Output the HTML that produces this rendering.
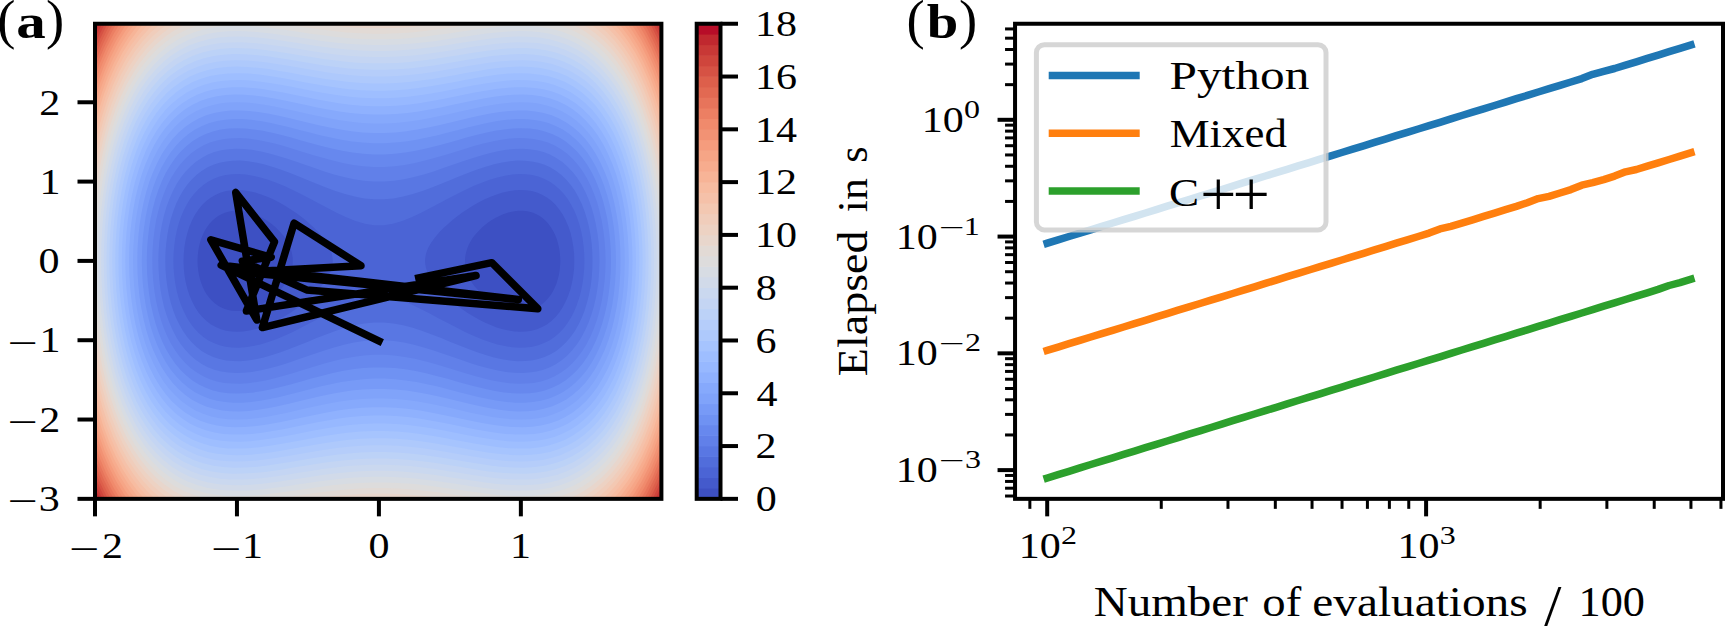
<!DOCTYPE html>
<html><head><meta charset="utf-8"><title>Figure</title><style>html,body{margin:0;padding:0;background:#fff}svg{display:block}</style></head><body>
<svg width="1725" height="626" viewBox="0 0 1725 626" font-family="'Liberation Serif', 'DejaVu Serif', serif">
<rect width="1725" height="626" fill="#fff"/>
<defs><clipPath id="ca"><rect x="95.0" y="23.75" width="566.4" height="475.1"/></clipPath><clipPath id="cb"><rect x="1015.05" y="23.75" width="707.95" height="475.1"/></clipPath></defs>
<g clip-path="url(#ca)">
<rect x="94.0" y="22.75" width="568.4" height="477.1" fill="#b70d28"/>
<path d="M55.4,260.9L55.7,237.1L56.7,213.4L58.4,190.0L60.7,167.0L63.7,144.6L67.3,122.8L71.6,101.9L76.6,81.8L82.1,62.8L88.3,44.9L95.1,28.1L102.5,12.6L110.4,-1.6L118.9,-14.5L127.9,-25.9L137.5,-36.1L147.5,-44.8L158.1,-52.2L169.1,-58.3L180.5,-63.1L192.3,-66.8L204.5,-69.4L217.1,-71.0L230.1,-71.8L243.3,-71.8L256.8,-71.2L270.6,-70.2L284.5,-68.9L298.7,-67.4L313.1,-66.0L327.6,-64.6L342.2,-63.5L356.8,-62.7L371.5,-62.3L386.3,-62.3L401.0,-62.7L415.7,-63.5L430.3,-64.6L444.7,-66.0L459.1,-67.4L473.3,-68.9L487.3,-70.2L501.0,-71.2L514.5,-71.8L527.8,-71.8L540.7,-71.0L553.3,-69.4L565.5,-66.8L577.3,-63.1L588.8,-58.3L599.8,-52.2L610.3,-44.8L620.3,-36.1L629.9,-25.9L638.9,-14.5L647.4,-1.6L655.4,12.6L662.7,28.1L669.5,44.9L675.7,62.8L681.2,81.8L686.2,101.9L690.5,122.8L694.1,144.6L697.1,167.0L699.5,190.0L701.1,213.4L702.1,237.1L702.5,260.9L702.5,260.9L702.1,284.7L701.1,308.4L699.5,331.8L697.1,354.8L694.1,377.2L690.5,399.0L686.2,419.9L681.2,440.0L675.7,459.0L669.5,477.0L662.7,493.7L655.4,509.2L647.4,523.4L638.9,536.3L629.9,547.8L620.3,557.9L610.3,566.6L599.8,574.0L588.8,580.1L577.3,584.9L565.5,588.6L553.3,591.2L540.7,592.8L527.8,593.6L514.5,593.6L501.0,593.0L487.3,592.0L473.3,590.7L459.1,589.2L444.7,587.8L430.3,586.4L415.7,585.3L401.0,584.5L386.3,584.1L371.5,584.1L356.8,584.5L342.2,585.3L327.6,586.4L313.1,587.8L298.7,589.2L284.5,590.7L270.6,592.0L256.8,593.0L243.3,593.6L230.1,593.6L217.1,592.8L204.5,591.2L192.3,588.6L180.5,584.9L169.1,580.1L158.1,574.0L147.5,566.6L137.5,557.9L127.9,547.8L118.9,536.3L110.4,523.4L102.5,509.2L95.1,493.7L88.3,477.0L82.1,459.0L76.6,440.0L71.6,419.9L67.3,399.0L63.7,377.2L60.7,354.8L58.4,331.8L56.7,308.4L55.7,284.7L55.4,260.9Z" fill="#c0282f"/>
<path d="M56.8,260.9L57.2,237.3L58.2,213.9L59.8,190.7L62.2,168.0L65.2,145.8L68.8,124.3L73.1,103.5L78.0,83.7L83.5,64.9L89.7,47.1L96.4,30.5L103.7,15.2L111.6,1.2L120.1,-11.5L129.1,-22.9L138.6,-32.9L148.6,-41.5L159.1,-48.8L170.0,-54.8L181.4,-59.6L193.2,-63.2L205.4,-65.7L217.9,-67.3L230.7,-68.0L243.9,-68.0L257.4,-67.4L271.1,-66.3L285.0,-65.0L299.1,-63.5L313.4,-62.1L327.8,-60.7L342.3,-59.6L356.9,-58.8L371.6,-58.4L386.2,-58.4L400.9,-58.8L415.5,-59.6L430.0,-60.7L444.4,-62.1L458.7,-63.5L472.8,-65.0L486.8,-66.3L500.5,-67.4L513.9,-68.0L527.1,-68.0L539.9,-67.3L552.5,-65.7L564.6,-63.2L576.4,-59.6L587.8,-54.8L598.7,-48.8L609.2,-41.5L619.2,-32.9L628.7,-22.9L637.7,-11.5L646.2,1.2L654.1,15.2L661.4,30.5L668.2,47.1L674.3,64.9L679.8,83.7L684.8,103.5L689.0,124.3L692.7,145.8L695.6,168.0L698.0,190.7L699.6,213.9L700.6,237.3L701.0,260.9L701.0,260.9L700.6,284.5L699.6,307.9L698.0,331.1L695.6,353.8L692.7,376.0L689.0,397.5L684.8,418.3L679.8,438.1L674.3,456.9L668.2,474.7L661.4,491.3L654.1,506.6L646.2,520.6L637.7,533.3L628.7,544.7L619.2,554.7L609.2,563.3L598.7,570.6L587.8,576.6L576.4,581.4L564.6,585.0L552.5,587.5L539.9,589.1L527.1,589.8L513.9,589.8L500.5,589.2L486.8,588.1L472.8,586.8L458.7,585.3L444.4,583.9L430.0,582.5L415.5,581.4L400.9,580.6L386.2,580.2L371.6,580.2L356.9,580.6L342.3,581.4L327.8,582.5L313.4,583.9L299.1,585.3L285.0,586.8L271.1,588.1L257.4,589.2L243.9,589.8L230.7,589.8L217.9,589.1L205.4,587.5L193.2,585.0L181.4,581.4L170.0,576.6L159.1,570.6L148.6,563.3L138.6,554.7L129.1,544.7L120.1,533.3L111.6,520.6L103.7,506.6L96.4,491.3L89.7,474.7L83.5,456.9L78.0,438.1L73.1,418.3L68.8,397.5L65.2,376.0L62.2,353.8L59.8,331.1L58.2,307.9L57.2,284.5L56.8,260.9Z" fill="#c83836"/>
<path d="M58.4,260.9L58.7,237.6L59.7,214.4L61.4,191.5L63.7,169.0L66.6,147.0L70.3,125.7L74.5,105.2L79.4,85.6L84.9,67.0L91.0,49.4L97.7,33.0L105.0,17.9L112.9,4.0L121.3,-8.6L130.3,-19.8L139.7,-29.6L149.7,-38.2L160.1,-45.3L171.0,-51.3L182.3,-55.9L194.1,-59.5L206.2,-61.9L218.6,-63.5L231.4,-64.1L244.5,-64.1L257.9,-63.5L271.6,-62.4L285.4,-61.1L299.5,-59.6L313.7,-58.1L328.0,-56.8L342.5,-55.6L357.0,-54.8L371.6,-54.4L386.2,-54.4L400.8,-54.8L415.3,-55.6L429.8,-56.8L444.1,-58.1L458.3,-59.6L472.4,-61.1L486.3,-62.4L499.9,-63.5L513.3,-64.1L526.4,-64.1L539.2,-63.5L551.6,-61.9L563.8,-59.5L575.5,-55.9L586.8,-51.3L597.7,-45.3L608.1,-38.2L618.1,-29.6L627.6,-19.8L636.5,-8.6L644.9,4.0L652.8,17.9L660.1,33.0L666.8,49.4L672.9,67.0L678.4,85.6L683.3,105.2L687.6,125.7L691.2,147.0L694.1,169.0L696.5,191.5L698.1,214.4L699.1,237.6L699.5,260.9L699.5,260.9L699.1,284.2L698.1,307.4L696.5,330.3L694.1,352.8L691.2,374.8L687.6,396.1L683.3,416.6L678.4,436.2L672.9,454.9L666.8,472.4L660.1,488.8L652.8,503.9L644.9,517.8L636.5,530.4L627.6,541.6L618.1,551.4L608.1,560.0L597.7,567.2L586.8,573.1L575.5,577.7L563.8,581.3L551.6,583.8L539.2,585.3L526.4,585.9L513.3,585.9L499.9,585.3L486.3,584.2L472.4,582.9L458.3,581.4L444.1,579.9L429.8,578.6L415.3,577.4L400.8,576.6L386.2,576.2L371.6,576.2L357.0,576.6L342.5,577.4L328.0,578.6L313.7,579.9L299.5,581.4L285.4,582.9L271.6,584.2L257.9,585.3L244.5,585.9L231.4,585.9L218.6,585.3L206.2,583.8L194.1,581.3L182.3,577.7L171.0,573.1L160.1,567.2L149.7,560.0L139.7,551.4L130.3,541.6L121.3,530.4L112.9,517.8L105.0,503.9L97.7,488.8L91.0,472.4L84.9,454.9L79.4,436.2L74.5,416.6L70.3,396.1L66.6,374.8L63.7,352.8L61.4,330.3L59.7,307.4L58.7,284.2L58.4,260.9Z" fill="#cf453c"/>
<path d="M59.9,260.9L60.2,237.8L61.2,214.9L62.9,192.2L65.2,170.0L68.1,148.3L71.7,127.2L76.0,106.9L80.8,87.5L86.3,69.1L92.4,51.7L99.1,35.5L106.4,20.5L114.2,6.8L122.6,-5.6L131.5,-16.6L140.9,-26.4L150.8,-34.8L161.2,-41.9L172.0,-47.7L183.3,-52.3L195.0,-55.7L207.0,-58.2L219.4,-59.6L232.2,-60.3L245.2,-60.2L258.5,-59.5L272.1,-58.5L285.9,-57.1L299.9,-55.6L314.0,-54.1L328.3,-52.8L342.7,-51.6L357.1,-50.8L371.6,-50.4L386.2,-50.4L400.7,-50.8L415.1,-51.6L429.5,-52.8L443.8,-54.1L458.0,-55.6L471.9,-57.1L485.7,-58.5L499.3,-59.5L512.6,-60.2L525.7,-60.3L538.4,-59.6L550.8,-58.2L562.9,-55.7L574.5,-52.3L585.8,-47.7L596.6,-41.9L607.0,-34.8L616.9,-26.4L626.4,-16.6L635.3,-5.6L643.6,6.8L651.5,20.5L658.7,35.5L665.4,51.7L671.5,69.1L677.0,87.5L681.8,106.9L686.1,127.2L689.7,148.3L692.6,170.0L694.9,192.2L696.6,214.9L697.6,237.8L697.9,260.9L697.9,260.9L697.6,284.0L696.6,306.9L694.9,329.6L692.6,351.8L689.7,373.6L686.1,394.6L681.8,414.9L677.0,434.3L671.5,452.7L665.4,470.1L658.7,486.3L651.5,501.3L643.6,515.0L635.3,527.4L626.4,538.4L616.9,548.2L607.0,556.6L596.6,563.7L585.8,569.5L574.5,574.1L562.9,577.6L550.8,580.0L538.4,581.4L525.7,582.1L512.6,582.0L499.3,581.3L485.7,580.3L471.9,578.9L458.0,577.4L443.8,575.9L429.5,574.6L415.1,573.4L400.7,572.6L386.2,572.2L371.6,572.2L357.1,572.6L342.7,573.4L328.3,574.6L314.0,575.9L299.9,577.4L285.9,578.9L272.1,580.3L258.5,581.3L245.2,582.0L232.2,582.1L219.4,581.4L207.0,580.0L195.0,577.6L183.3,574.1L172.0,569.5L161.2,563.7L150.8,556.6L140.9,548.2L131.5,538.4L122.6,527.4L114.2,515.0L106.4,501.3L99.1,486.3L92.4,470.1L86.3,452.7L80.8,434.3L76.0,414.9L71.7,394.6L68.1,373.6L65.2,351.8L62.9,329.6L61.2,306.9L60.2,284.0L59.9,260.9Z" fill="#d65244"/>
<path d="M61.5,260.9L61.8,238.1L62.8,215.4L64.4,193.0L66.7,171.0L69.7,149.5L73.3,128.7L77.5,108.6L82.3,89.4L87.8,71.2L93.8,54.1L100.5,38.1L107.7,23.3L115.5,9.7L123.8,-2.5L132.7,-13.5L142.1,-23.1L151.9,-31.3L162.3,-38.3L173.0,-44.1L184.2,-48.6L195.9,-52.0L207.9,-54.3L220.2,-55.7L232.9,-56.3L245.9,-56.2L259.1,-55.5L272.6,-54.4L286.3,-53.1L300.3,-51.6L314.3,-50.1L328.5,-48.7L342.9,-47.6L357.2,-46.8L371.7,-46.3L386.1,-46.3L400.6,-46.8L415.0,-47.6L429.3,-48.7L443.5,-50.1L457.6,-51.6L471.5,-53.1L485.2,-54.4L498.7,-55.5L512.0,-56.2L524.9,-56.3L537.6,-55.7L550.0,-54.3L562.0,-52.0L573.6,-48.6L584.8,-44.1L595.6,-38.3L605.9,-31.3L615.8,-23.1L625.1,-13.5L634.0,-2.5L642.3,9.7L650.1,23.3L657.3,38.1L664.0,54.1L670.1,71.2L675.5,89.4L680.3,108.6L684.6,128.7L688.1,149.5L691.1,171.0L693.4,193.0L695.0,215.4L696.0,238.1L696.3,260.9L696.3,260.9L696.0,283.7L695.0,306.4L693.4,328.8L691.1,350.8L688.1,372.3L684.6,393.1L680.3,413.2L675.5,432.4L670.1,450.6L664.0,467.7L657.3,483.7L650.1,498.5L642.3,512.1L634.0,524.3L625.1,535.3L615.8,544.9L605.9,553.1L595.6,560.1L584.8,565.9L573.6,570.4L562.0,573.8L550.0,576.1L537.6,577.5L524.9,578.1L512.0,578.0L498.7,577.3L485.2,576.2L471.5,574.9L457.6,573.4L443.5,571.9L429.3,570.5L415.0,569.4L400.6,568.6L386.1,568.1L371.7,568.1L357.2,568.6L342.9,569.4L328.5,570.5L314.3,571.9L300.3,573.4L286.3,574.9L272.6,576.2L259.1,577.3L245.9,578.0L232.9,578.1L220.2,577.5L207.9,576.1L195.9,573.8L184.2,570.4L173.0,565.9L162.3,560.1L151.9,553.1L142.1,544.9L132.7,535.3L123.8,524.3L115.5,512.1L107.7,498.5L100.5,483.7L93.8,467.7L87.8,450.6L82.3,432.4L77.5,413.2L73.3,393.1L69.7,372.3L66.7,350.8L64.4,328.8L62.8,306.4L61.8,283.7L61.5,260.9Z" fill="#dd5f4b"/>
<path d="M63.1,260.9L63.4,238.3L64.4,215.9L66.0,193.8L68.3,172.0L71.2,150.8L74.8,130.2L79.0,110.4L83.8,91.4L89.2,73.4L95.3,56.5L101.9,40.6L109.1,26.0L116.8,12.6L125.1,0.5L133.9,-10.2L143.3,-19.7L153.1,-27.9L163.3,-34.7L174.1,-40.4L185.2,-44.8L196.8,-48.1L208.7,-50.4L221.0,-51.8L233.6,-52.3L246.5,-52.2L259.7,-51.5L273.1,-50.4L286.8,-49.0L300.6,-47.5L314.7,-46.0L328.8,-44.6L343.0,-43.4L357.4,-42.6L371.7,-42.2L386.1,-42.2L400.5,-42.6L414.8,-43.4L429.0,-44.6L443.2,-46.0L457.2,-47.5L471.0,-49.0L484.7,-50.4L498.1,-51.5L511.3,-52.2L524.2,-52.3L536.8,-51.8L549.1,-50.4L561.0,-48.1L572.6,-44.8L583.7,-40.4L594.5,-34.7L604.8,-27.9L614.6,-19.7L623.9,-10.2L632.7,0.5L641.0,12.6L648.8,26.0L655.9,40.6L662.6,56.5L668.6,73.4L674.0,91.4L678.8,110.4L683.0,130.2L686.6,150.8L689.5,172.0L691.8,193.8L693.4,215.9L694.4,238.3L694.7,260.9L694.7,260.9L694.4,283.5L693.4,305.9L691.8,328.0L689.5,349.8L686.6,371.0L683.0,391.6L678.8,411.5L674.0,430.4L668.6,448.4L662.6,465.4L655.9,481.2L648.8,495.8L641.0,509.2L632.7,521.3L623.9,532.0L614.6,541.5L604.8,549.7L594.5,556.6L583.7,562.2L572.6,566.6L561.0,570.0L549.1,572.2L536.8,573.6L524.2,574.2L511.3,574.0L498.1,573.3L484.7,572.2L471.0,570.8L457.2,569.3L443.2,567.8L429.0,566.4L414.8,565.2L400.5,564.4L386.1,564.0L371.7,564.0L357.4,564.4L343.0,565.2L328.8,566.4L314.7,567.8L300.6,569.3L286.8,570.8L273.1,572.2L259.7,573.3L246.5,574.0L233.6,574.2L221.0,573.6L208.7,572.2L196.8,570.0L185.2,566.6L174.1,562.2L163.3,556.6L153.1,549.7L143.3,541.5L133.9,532.0L125.1,521.3L116.8,509.2L109.1,495.8L101.9,481.2L95.3,465.4L89.2,448.4L83.8,430.4L79.0,411.5L74.8,391.6L71.2,371.0L68.3,349.8L66.0,328.0L64.4,305.9L63.4,283.5L63.1,260.9Z" fill="#e26952"/>
<path d="M64.7,260.9L65.0,238.6L66.0,216.4L67.6,194.5L69.9,173.0L72.8,152.1L76.4,131.7L80.5,112.1L85.3,93.4L90.7,75.6L96.7,58.9L103.3,43.2L110.5,28.8L118.2,15.6L126.4,3.7L135.2,-7.0L144.5,-16.3L154.2,-24.4L164.5,-31.1L175.1,-36.7L186.2,-41.0L197.7,-44.3L209.6,-46.5L221.8,-47.8L234.4,-48.3L247.2,-48.1L260.3,-47.4L273.7,-46.3L287.3,-44.8L301.1,-43.3L315.0,-41.8L329.1,-40.4L343.2,-39.3L357.5,-38.5L371.8,-38.0L386.1,-38.0L400.4,-38.5L414.6,-39.3L428.8,-40.4L442.8,-41.8L456.8,-43.3L470.5,-44.8L484.1,-46.3L497.5,-47.4L510.6,-48.1L523.5,-48.3L536.0,-47.8L548.2,-46.5L560.1,-44.3L571.6,-41.0L582.7,-36.7L593.4,-31.1L603.6,-24.4L613.4,-16.3L622.6,-7.0L631.4,3.7L639.7,15.6L647.4,28.8L654.5,43.2L661.1,58.9L667.1,75.6L672.5,93.4L677.3,112.1L681.4,131.7L685.0,152.1L687.9,173.0L690.2,194.5L691.8,216.4L692.8,238.6L693.1,260.9L693.1,260.9L692.8,283.2L691.8,305.4L690.2,327.3L687.9,348.8L685.0,369.8L681.4,390.1L677.3,409.7L672.5,428.4L667.1,446.2L661.1,462.9L654.5,478.6L647.4,493.0L639.7,506.2L631.4,518.1L622.6,528.8L613.4,538.1L603.6,546.2L593.4,552.9L582.7,558.5L571.6,562.8L560.1,566.1L548.2,568.3L536.0,569.6L523.5,570.1L510.6,569.9L497.5,569.2L484.1,568.1L470.5,566.7L456.8,565.1L442.8,563.6L428.8,562.2L414.6,561.1L400.4,560.3L386.1,559.8L371.8,559.8L357.5,560.3L343.2,561.1L329.1,562.2L315.0,563.6L301.1,565.1L287.3,566.7L273.7,568.1L260.3,569.2L247.2,569.9L234.4,570.1L221.8,569.6L209.6,568.3L197.7,566.1L186.2,562.8L175.1,558.5L164.5,552.9L154.2,546.2L144.5,538.1L135.2,528.8L126.4,518.1L118.2,506.2L110.5,493.0L103.3,478.6L96.7,462.9L90.7,446.2L85.3,428.4L80.5,409.7L76.4,390.1L72.8,369.8L69.9,348.8L67.6,327.3L66.0,305.4L65.0,283.2L64.7,260.9Z" fill="#e7745b"/>
<path d="M66.4,260.9L66.7,238.9L67.7,217.0L69.3,195.3L71.5,174.1L74.4,153.4L78.0,133.3L82.1,113.9L86.9,95.4L92.3,77.8L98.2,61.3L104.8,45.9L111.9,31.6L119.5,18.6L127.8,6.8L136.5,-3.7L145.7,-12.9L155.4,-20.8L165.6,-27.5L176.2,-32.9L187.2,-37.2L198.7,-40.3L210.5,-42.5L222.6,-43.8L235.1,-44.2L247.9,-44.0L261.0,-43.2L274.3,-42.1L287.8,-40.6L301.5,-39.1L315.3,-37.6L329.3,-36.2L343.4,-35.0L357.6,-34.2L371.8,-33.8L386.0,-33.8L400.2,-34.2L414.4,-35.0L428.5,-36.2L442.5,-37.6L456.4,-39.1L470.1,-40.6L483.6,-42.1L496.9,-43.2L509.9,-44.0L522.7,-44.2L535.2,-43.8L547.3,-42.5L559.1,-40.3L570.6,-37.2L581.6,-32.9L592.2,-27.5L602.4,-20.8L612.1,-12.9L621.3,-3.7L630.1,6.8L638.3,18.6L645.9,31.6L653.1,45.9L659.6,61.3L665.6,77.8L670.9,95.4L675.7,113.9L679.8,133.3L683.4,153.4L686.3,174.1L688.5,195.3L690.1,217.0L691.1,238.9L691.4,260.9L691.4,260.9L691.1,282.9L690.1,304.8L688.5,326.5L686.3,347.7L683.4,368.5L679.8,388.6L675.7,407.9L670.9,426.4L665.6,444.0L659.6,460.5L653.1,475.9L645.9,490.2L638.3,503.2L630.1,515.0L621.3,525.5L612.1,534.7L602.4,542.6L592.2,549.3L581.6,554.7L570.6,559.0L559.1,562.2L547.3,564.3L535.2,565.6L522.7,566.0L509.9,565.8L496.9,565.0L483.6,563.9L470.1,562.5L456.4,560.9L442.5,559.4L428.5,558.0L414.4,556.8L400.2,556.0L386.0,555.6L371.8,555.6L357.6,556.0L343.4,556.8L329.3,558.0L315.3,559.4L301.5,560.9L287.8,562.5L274.3,563.9L261.0,565.0L247.9,565.8L235.1,566.0L222.6,565.6L210.5,564.3L198.7,562.2L187.2,559.0L176.2,554.7L165.6,549.3L155.4,542.6L145.7,534.7L136.5,525.5L127.8,515.0L119.5,503.2L111.9,490.2L104.8,475.9L98.2,460.5L92.3,444.0L86.9,426.4L82.1,407.9L78.0,388.6L74.4,368.5L71.5,347.7L69.3,326.5L67.7,304.8L66.7,282.9L66.4,260.9Z" fill="#ec7f63"/>
<path d="M68.1,260.9L68.4,239.1L69.4,217.5L71.0,196.1L73.2,175.1L76.1,154.7L79.6,134.8L83.7,115.7L88.5,97.4L93.8,80.1L99.7,63.8L106.2,48.6L113.3,34.5L121.0,21.6L129.1,10.0L137.8,-0.3L147.0,-9.4L156.6,-17.2L166.7,-23.7L177.3,-29.1L188.3,-33.3L199.7,-36.4L211.4,-38.5L223.5,-39.7L235.9,-40.1L248.6,-39.8L261.6,-39.0L274.8,-37.8L288.3,-36.4L301.9,-34.8L315.7,-33.3L329.6,-31.9L343.6,-30.7L357.7,-29.9L371.8,-29.5L386.0,-29.5L400.1,-29.9L414.2,-30.7L428.2,-31.9L442.2,-33.3L455.9,-34.8L469.6,-36.4L483.0,-37.8L496.2,-39.0L509.2,-39.8L521.9,-40.1L534.3,-39.7L546.4,-38.5L558.2,-36.4L569.5,-33.3L580.5,-29.1L591.1,-23.7L601.2,-17.2L610.9,-9.4L620.0,-0.3L628.7,10.0L636.9,21.6L644.5,34.5L651.6,48.6L658.1,63.8L664.0,80.1L669.4,97.4L674.1,115.7L678.2,134.8L681.7,154.7L684.6,175.1L686.9,196.1L688.5,217.5L689.4,239.1L689.7,260.9L689.7,260.9L689.4,282.7L688.5,304.3L686.9,325.7L684.6,346.7L681.7,367.1L678.2,387.0L674.1,406.1L669.4,424.4L664.0,441.7L658.1,458.0L651.6,473.3L644.5,487.3L636.9,500.2L628.7,511.8L620.0,522.1L610.9,531.2L601.2,539.0L591.1,545.5L580.5,550.9L569.5,555.1L558.2,558.2L546.4,560.3L534.3,561.5L521.9,561.9L509.2,561.6L496.2,560.8L483.0,559.6L469.6,558.2L455.9,556.6L442.2,555.1L428.2,553.7L414.2,552.5L400.1,551.7L386.0,551.3L371.8,551.3L357.7,551.7L343.6,552.5L329.6,553.7L315.7,555.1L301.9,556.6L288.3,558.2L274.8,559.6L261.6,560.8L248.6,561.6L235.9,561.9L223.5,561.5L211.4,560.3L199.7,558.2L188.3,555.1L177.3,550.9L166.7,545.5L156.6,539.0L147.0,531.2L137.8,522.1L129.1,511.8L121.0,500.2L113.3,487.3L106.2,473.3L99.7,458.0L93.8,441.7L88.5,424.4L83.7,406.1L79.6,387.0L76.1,367.1L73.2,346.7L71.0,325.7L69.4,304.3L68.4,282.7L68.1,260.9Z" fill="#f08a6c"/>
<path d="M69.8,260.9L70.1,239.4L71.1,218.1L72.7,196.9L74.9,176.2L77.8,156.0L81.3,136.4L85.4,117.5L90.1,99.5L95.4,82.4L101.3,66.3L107.8,51.3L114.8,37.4L122.4,24.7L130.5,13.3L139.1,3.1L148.3,-5.8L157.9,-13.5L167.9,-19.9L178.4,-25.2L189.3,-29.3L200.7,-32.3L212.3,-34.4L224.4,-35.5L236.7,-35.9L249.3,-35.6L262.2,-34.7L275.4,-33.5L288.8,-32.1L302.3,-30.5L316.0,-28.9L329.9,-27.5L343.8,-26.4L357.8,-25.6L371.9,-25.1L385.9,-25.1L400.0,-25.6L414.0,-26.4L428.0,-27.5L441.8,-28.9L455.5,-30.5L469.1,-32.1L482.4,-33.5L495.6,-34.7L508.5,-35.6L521.1,-35.9L533.5,-35.5L545.5,-34.4L557.2,-32.3L568.5,-29.3L579.4,-25.2L589.9,-19.9L600.0,-13.5L609.6,-5.8L618.7,3.1L627.3,13.3L635.4,24.7L643.0,37.4L650.1,51.3L656.5,66.3L662.4,82.4L667.7,99.5L672.5,117.5L676.6,136.4L680.0,156.0L682.9,176.2L685.1,196.9L686.7,218.1L687.7,239.4L688.0,260.9L688.0,260.9L687.7,282.4L686.7,303.8L685.1,324.9L682.9,345.6L680.0,365.8L676.6,385.4L672.5,404.3L667.7,422.3L662.4,439.4L656.5,455.5L650.1,470.5L643.0,484.4L635.4,497.1L627.3,508.5L618.7,518.7L609.6,527.6L600.0,535.3L589.9,541.8L579.4,547.0L568.5,551.1L557.2,554.1L545.5,556.2L533.5,557.3L521.1,557.7L508.5,557.4L495.6,556.6L482.4,555.3L469.1,553.9L455.5,552.3L441.8,550.7L428.0,549.3L414.0,548.2L400.0,547.4L385.9,546.9L371.9,546.9L357.8,547.4L343.8,548.2L329.9,549.3L316.0,550.7L302.3,552.3L288.8,553.9L275.4,555.3L262.2,556.6L249.3,557.4L236.7,557.7L224.4,557.3L212.3,556.2L200.7,554.1L189.3,551.1L178.4,547.0L167.9,541.8L157.9,535.3L148.3,527.6L139.1,518.7L130.5,508.5L122.4,497.1L114.8,484.4L107.8,470.5L101.3,455.5L95.4,439.4L90.1,422.3L85.4,404.3L81.3,385.4L77.8,365.8L74.9,345.6L72.7,324.9L71.1,303.8L70.1,282.4L69.8,260.9Z" fill="#f29274"/>
<path d="M71.6,260.9L71.9,239.7L72.8,218.6L74.4,197.8L76.6,177.3L79.5,157.4L83.0,138.0L87.0,119.4L91.7,101.6L97.0,84.7L102.9,68.8L109.3,54.0L116.3,40.3L123.8,27.9L131.9,16.6L140.5,6.5L149.6,-2.2L159.1,-9.8L169.1,-16.1L179.6,-21.3L190.4,-25.3L201.7,-28.2L213.3,-30.2L225.2,-31.3L237.5,-31.6L250.1,-31.3L262.9,-30.4L276.0,-29.2L289.3,-27.7L302.7,-26.1L316.4,-24.5L330.1,-23.1L344.0,-21.9L357.9,-21.1L371.9,-20.7L385.9,-20.7L399.9,-21.1L413.8,-21.9L427.7,-23.1L441.4,-24.5L455.1,-26.1L468.5,-27.7L481.8,-29.2L494.9,-30.4L507.7,-31.3L520.3,-31.6L532.6,-31.3L544.5,-30.2L556.2,-28.2L567.4,-25.3L578.3,-21.3L588.7,-16.1L598.7,-9.8L608.3,-2.2L617.3,6.5L625.9,16.6L634.0,27.9L641.5,40.3L648.5,54.0L655.0,68.8L660.8,84.7L666.1,101.6L670.8,119.4L674.9,138.0L678.3,157.4L681.2,177.3L683.4,197.8L685.0,218.6L685.9,239.7L686.3,260.9L686.3,260.9L685.9,282.1L685.0,303.2L683.4,324.0L681.2,344.5L678.3,364.4L674.9,383.8L670.8,402.4L666.1,420.2L660.8,437.1L655.0,453.0L648.5,467.8L641.5,481.5L634.0,494.0L625.9,505.2L617.3,515.3L608.3,524.1L598.7,531.6L588.7,537.9L578.3,543.1L567.4,547.1L556.2,550.0L544.5,552.0L532.6,553.1L520.3,553.4L507.7,553.1L494.9,552.2L481.8,551.0L468.5,549.5L455.1,547.9L441.4,546.3L427.7,544.9L413.8,543.8L399.9,542.9L385.9,542.5L371.9,542.5L357.9,542.9L344.0,543.8L330.1,544.9L316.4,546.3L302.7,547.9L289.3,549.5L276.0,551.0L262.9,552.2L250.1,553.1L237.5,553.4L225.2,553.1L213.3,552.0L201.7,550.0L190.4,547.1L179.6,543.1L169.1,537.9L159.1,531.6L149.6,524.1L140.5,515.3L131.9,505.2L123.8,494.0L116.3,481.5L109.3,467.8L102.9,453.0L97.0,437.1L91.7,420.2L87.0,402.4L83.0,383.8L79.5,364.4L76.6,344.5L74.4,324.0L72.8,303.2L71.9,282.1L71.6,260.9Z" fill="#f59c7d"/>
<path d="M73.4,260.9L73.7,240.0L74.6,219.2L76.2,198.6L78.4,178.4L81.2,158.7L84.7,139.7L88.7,121.3L93.4,103.7L98.7,87.1L104.5,71.4L110.9,56.8L117.8,43.3L125.3,31.0L133.4,19.9L141.9,10.0L150.9,1.4L160.4,-6.0L170.4,-12.2L180.7,-17.3L191.5,-21.2L202.7,-24.1L214.2,-26.0L226.1,-27.0L238.3,-27.3L250.8,-26.9L263.6,-26.0L276.6,-24.7L289.8,-23.2L303.2,-21.6L316.7,-20.0L330.4,-18.6L344.2,-17.4L358.1,-16.6L372.0,-16.2L385.9,-16.2L399.8,-16.6L413.6,-17.4L427.4,-18.6L441.1,-20.0L454.6,-21.6L468.0,-23.2L481.2,-24.7L494.2,-26.0L507.0,-26.9L519.5,-27.3L531.7,-27.0L543.6,-26.0L555.1,-24.1L566.3,-21.2L577.1,-17.3L587.5,-12.2L597.4,-6.0L606.9,1.4L615.9,10.0L624.5,19.9L632.5,31.0L640.0,43.3L646.9,56.8L653.3,71.4L659.2,87.1L664.4,103.7L669.1,121.3L673.1,139.7L676.6,158.7L679.4,178.4L681.6,198.6L683.2,219.2L684.1,240.0L684.5,260.9L684.5,260.9L684.1,281.8L683.2,302.6L681.6,323.2L679.4,343.4L676.6,363.1L673.1,382.2L669.1,400.5L664.4,418.1L659.2,434.7L653.3,450.4L646.9,465.0L640.0,478.5L632.5,490.8L624.5,501.9L615.9,511.8L606.9,520.4L597.4,527.8L587.5,534.0L577.1,539.1L566.3,543.0L555.1,545.9L543.6,547.8L531.7,548.8L519.5,549.1L507.0,548.7L494.2,547.8L481.2,546.5L468.0,545.0L454.6,543.4L441.1,541.9L427.4,540.4L413.6,539.3L399.8,538.4L385.9,538.0L372.0,538.0L358.1,538.4L344.2,539.3L330.4,540.4L316.7,541.9L303.2,543.4L289.8,545.0L276.6,546.5L263.6,547.8L250.8,548.7L238.3,549.1L226.1,548.8L214.2,547.8L202.7,545.9L191.5,543.0L180.7,539.1L170.4,534.0L160.4,527.8L150.9,520.4L141.9,511.8L133.4,501.9L125.3,490.8L117.8,478.5L110.9,465.0L104.5,450.4L98.7,434.7L93.4,418.1L88.7,400.5L84.7,382.2L81.2,363.1L78.4,343.4L76.2,323.2L74.6,302.6L73.7,281.8L73.4,260.9Z" fill="#f6a586"/>
<path d="M75.2,260.9L75.5,240.3L76.4,219.7L78.0,199.5L80.2,179.6L83.0,160.1L86.5,141.3L90.5,123.2L95.1,105.9L100.3,89.5L106.1,74.0L112.5,59.7L119.4,46.4L126.9,34.3L134.8,23.3L143.3,13.6L152.3,5.1L161.7,-2.2L171.6,-8.3L181.9,-13.2L192.6,-17.0L203.8,-19.8L215.2,-21.7L227.0,-22.6L239.2,-22.9L251.6,-22.4L264.3,-21.5L277.2,-20.2L290.3,-18.7L303.6,-17.1L317.1,-15.5L330.7,-14.1L344.4,-12.9L358.2,-12.0L372.0,-11.6L385.8,-11.6L399.6,-12.0L413.4,-12.9L427.1,-14.1L440.7,-15.5L454.2,-17.1L467.5,-18.7L480.6,-20.2L493.5,-21.5L506.2,-22.4L518.6,-22.9L530.8,-22.6L542.6,-21.7L554.1,-19.8L565.2,-17.0L575.9,-13.2L586.2,-8.3L596.1,-2.2L605.5,5.1L614.5,13.6L623.0,23.3L631.0,34.3L638.4,46.4L645.3,59.7L651.7,74.0L657.5,89.5L662.7,105.9L667.3,123.2L671.4,141.3L674.8,160.1L677.6,179.6L679.8,199.5L681.4,219.7L682.3,240.3L682.6,260.9L682.6,260.9L682.3,281.6L681.4,302.1L679.8,322.3L677.6,342.3L674.8,361.7L671.4,380.5L667.3,398.6L662.7,415.9L657.5,432.3L651.7,447.8L645.3,462.2L638.4,475.4L631.0,487.6L623.0,498.5L614.5,508.2L605.5,516.7L596.1,524.0L586.2,530.1L575.9,535.0L565.2,538.8L554.1,541.6L542.6,543.5L530.8,544.4L518.6,544.7L506.2,544.2L493.5,543.3L480.6,542.0L467.5,540.5L454.2,538.9L440.7,537.3L427.1,535.9L413.4,534.7L399.6,533.8L385.8,533.4L372.0,533.4L358.2,533.8L344.4,534.7L330.7,535.9L317.1,537.3L303.6,538.9L290.3,540.5L277.2,542.0L264.3,543.3L251.6,544.2L239.2,544.7L227.0,544.4L215.2,543.5L203.8,541.6L192.6,538.8L181.9,535.0L171.6,530.1L161.7,524.0L152.3,516.7L143.3,508.2L134.8,498.5L126.9,487.6L119.4,475.4L112.5,462.2L106.1,447.8L100.3,432.3L95.1,415.9L90.5,398.6L86.5,380.5L83.0,361.7L80.2,342.3L78.0,322.3L76.4,302.1L75.5,281.6L75.2,260.9Z" fill="#f7ac8e"/>
<path d="M77.1,260.9L77.4,240.5L78.3,220.3L79.9,200.3L82.1,180.7L84.9,161.6L88.3,143.0L92.3,125.2L96.9,108.1L102.1,91.9L107.8,76.7L114.1,62.5L121.0,49.5L128.4,37.5L136.3,26.8L144.8,17.2L153.7,8.9L163.1,1.7L172.9,-4.3L183.1,-9.1L193.8,-12.8L204.8,-15.5L216.2,-17.3L228.0,-18.2L240.0,-18.4L252.4,-17.9L265.0,-17.0L277.8,-15.6L290.9,-14.1L304.1,-12.5L317.5,-10.9L331.0,-9.4L344.6,-8.2L358.3,-7.4L372.0,-7.0L385.8,-7.0L399.5,-7.4L413.2,-8.2L426.8,-9.4L440.3,-10.9L453.7,-12.5L466.9,-14.1L480.0,-15.6L492.8,-17.0L505.4,-17.9L517.8,-18.4L529.8,-18.2L541.6,-17.3L553.0,-15.5L564.0,-12.8L574.7,-9.1L584.9,-4.3L594.8,1.7L604.1,8.9L613.1,17.2L621.5,26.8L629.4,37.5L636.8,49.5L643.7,62.5L650.0,76.7L655.8,91.9L661.0,108.1L665.6,125.2L669.6,143.0L673.0,161.6L675.8,180.7L677.9,200.3L679.5,220.3L680.4,240.5L680.8,260.9L680.8,260.9L680.4,281.3L679.5,301.5L677.9,321.5L675.8,341.1L673.0,360.3L669.6,378.8L665.6,396.7L661.0,413.7L655.8,429.9L650.0,445.1L643.7,459.3L636.8,472.3L629.4,484.3L621.5,495.0L613.1,504.6L604.1,512.9L594.8,520.1L584.9,526.1L574.7,530.9L564.0,534.6L553.0,537.3L541.6,539.1L529.8,540.0L517.8,540.2L505.4,539.7L492.8,538.8L480.0,537.5L466.9,535.9L453.7,534.3L440.3,532.7L426.8,531.2L413.2,530.0L399.5,529.2L385.8,528.8L372.0,528.8L358.3,529.2L344.6,530.0L331.0,531.2L317.5,532.7L304.1,534.3L290.9,535.9L277.8,537.5L265.0,538.8L252.4,539.7L240.0,540.2L228.0,540.0L216.2,539.1L204.8,537.3L193.8,534.6L183.1,530.9L172.9,526.1L163.1,520.1L153.7,512.9L144.8,504.6L136.3,495.0L128.4,484.3L121.0,472.3L114.1,459.3L107.8,445.1L102.1,429.9L96.9,413.7L92.3,396.7L88.3,378.8L84.9,360.3L82.1,341.1L79.9,321.5L78.3,301.5L77.4,281.3L77.1,260.9Z" fill="#f7b497"/>
<path d="M79.0,260.9L79.3,240.8L80.2,220.9L81.8,201.2L83.9,181.9L86.7,163.0L90.1,144.7L94.1,127.1L98.7,110.3L103.8,94.4L109.5,79.4L115.8,65.5L122.6,52.6L130.0,40.9L137.9,30.3L146.3,20.9L155.1,12.7L164.4,5.7L174.2,-0.2L184.4,-4.9L195.0,-8.5L205.9,-11.2L217.3,-12.8L228.9,-13.7L240.9,-13.8L253.2,-13.3L265.7,-12.3L278.5,-11.0L291.4,-9.4L304.6,-7.8L317.9,-6.1L331.3,-4.7L344.8,-3.5L358.4,-2.6L372.1,-2.2L385.7,-2.2L399.4,-2.6L413.0,-3.5L426.5,-4.7L439.9,-6.1L453.2,-7.8L466.4,-9.4L479.3,-11.0L492.1,-12.3L504.6,-13.3L516.9,-13.8L528.9,-13.7L540.5,-12.8L551.9,-11.2L562.8,-8.5L573.4,-4.9L583.6,-0.2L593.4,5.7L602.7,12.7L611.6,20.9L619.9,30.3L627.8,40.9L635.2,52.6L642.0,65.5L648.3,79.4L654.0,94.4L659.2,110.3L663.7,127.1L667.7,144.7L671.1,163.0L673.9,181.9L676.0,201.2L677.6,220.9L678.5,240.8L678.8,260.9L678.8,260.9L678.5,281.0L677.6,300.9L676.0,320.6L673.9,339.9L671.1,358.8L667.7,377.1L663.7,394.7L659.2,411.5L654.0,427.4L648.3,442.4L642.0,456.3L635.2,469.2L627.8,480.9L619.9,491.5L611.6,500.9L602.7,509.1L593.4,516.1L583.6,522.0L573.4,526.7L562.8,530.3L551.9,533.0L540.5,534.7L528.9,535.5L516.9,535.6L504.6,535.1L492.1,534.1L479.3,532.8L466.4,531.2L453.2,529.6L439.9,527.9L426.5,526.5L413.0,525.3L399.4,524.5L385.7,524.0L372.1,524.0L358.4,524.5L344.8,525.3L331.3,526.5L317.9,527.9L304.6,529.6L291.4,531.2L278.5,532.8L265.7,534.1L253.2,535.1L240.9,535.6L228.9,535.5L217.3,534.7L205.9,533.0L195.0,530.3L184.4,526.7L174.2,522.0L164.4,516.1L155.1,509.1L146.3,500.9L137.9,491.5L130.0,480.9L122.6,469.2L115.8,456.3L109.5,442.4L103.8,427.4L98.7,411.5L94.1,394.7L90.1,377.1L86.7,358.8L83.9,339.9L81.8,320.6L80.2,300.9L79.3,281.0L79.0,260.9Z" fill="#f7bca1"/>
<path d="M80.9,260.9L81.3,241.1L82.2,221.5L83.7,202.1L85.9,183.0L88.6,164.5L92.0,146.5L95.9,129.1L100.5,112.6L105.6,96.9L111.3,82.2L117.5,68.5L124.3,55.8L131.6,44.2L139.5,33.9L147.8,24.6L156.6,16.6L165.8,9.7L175.5,4.0L185.7,-0.6L196.2,-4.2L207.1,-6.7L218.3,-8.3L229.9,-9.1L241.8,-9.2L254.0,-8.6L266.5,-7.6L279.1,-6.2L292.0,-4.6L305.1,-3.0L318.3,-1.3L331.6,0.1L345.1,1.3L358.6,2.2L372.1,2.6L385.7,2.6L399.2,2.2L412.8,1.3L426.2,0.1L439.5,-1.3L452.7,-3.0L465.8,-4.6L478.7,-6.2L491.4,-7.6L503.8,-8.6L516.0,-9.2L527.9,-9.1L539.5,-8.3L550.7,-6.7L561.6,-4.2L572.2,-0.6L582.3,4.0L592.0,9.7L601.2,16.6L610.0,24.6L618.4,33.9L626.2,44.2L633.5,55.8L640.3,68.5L646.5,82.2L652.2,96.9L657.3,112.6L661.9,129.1L665.8,146.5L669.2,164.5L671.9,183.0L674.1,202.1L675.6,221.5L676.6,241.1L676.9,260.9L676.9,260.9L676.6,280.7L675.6,300.3L674.1,319.7L671.9,338.8L669.2,357.3L665.8,375.3L661.9,392.7L657.3,409.2L652.2,424.9L646.5,439.6L640.3,453.4L633.5,466.0L626.2,477.6L618.4,488.0L610.0,497.2L601.2,505.2L592.0,512.1L582.3,517.8L572.2,522.4L561.6,526.0L550.7,528.5L539.5,530.1L527.9,530.9L516.0,531.0L503.8,530.4L491.4,529.4L478.7,528.0L465.8,526.5L452.7,524.8L439.5,523.1L426.2,521.7L412.8,520.5L399.2,519.6L385.7,519.2L372.1,519.2L358.6,519.6L345.1,520.5L331.6,521.7L318.3,523.1L305.1,524.8L292.0,526.5L279.1,528.0L266.5,529.4L254.0,530.4L241.8,531.0L229.9,530.9L218.3,530.1L207.1,528.5L196.2,526.0L185.7,522.4L175.5,517.8L165.8,512.1L156.6,505.2L147.8,497.2L139.5,488.0L131.6,477.6L124.3,466.0L117.5,453.4L111.3,439.6L105.6,424.9L100.5,409.2L95.9,392.7L92.0,375.3L88.6,357.3L85.9,338.8L83.7,319.7L82.2,300.3L81.3,280.7L80.9,260.9Z" fill="#f5c1a9"/>
<path d="M83.0,260.9L83.3,241.4L84.2,222.1L85.7,203.0L87.8,184.2L90.6,166.0L93.9,148.2L97.9,131.2L102.4,114.9L107.5,99.5L113.1,85.0L119.3,71.5L126.0,59.0L133.3,47.7L141.1,37.5L149.3,28.4L158.1,20.5L167.3,13.8L176.9,8.2L187.0,3.7L197.4,0.3L208.2,-2.2L219.4,-3.7L230.9,-4.4L242.8,-4.5L254.9,-3.9L267.2,-2.8L279.8,-1.4L292.6,0.2L305.6,1.9L318.7,3.6L331.9,5.0L345.3,6.2L358.7,7.1L372.2,7.5L385.6,7.5L399.1,7.1L412.5,6.2L425.9,5.0L439.1,3.6L452.2,1.9L465.2,0.2L478.0,-1.4L490.6,-2.8L503.0,-3.9L515.1,-4.5L526.9,-4.4L538.4,-3.7L549.6,-2.2L560.4,0.3L570.9,3.7L580.9,8.2L590.6,13.8L599.7,20.5L608.5,28.4L616.7,37.5L624.5,47.7L631.8,59.0L638.5,71.5L644.7,85.0L650.4,99.5L655.4,114.9L660.0,131.2L663.9,148.2L667.2,166.0L670.0,184.2L672.1,203.0L673.6,222.1L674.6,241.4L674.9,260.9L674.9,260.9L674.6,280.4L673.6,299.7L672.1,318.8L670.0,337.6L667.2,355.8L663.9,373.6L660.0,390.6L655.4,406.9L650.4,422.3L644.7,436.8L638.5,450.3L631.8,462.8L624.5,474.1L616.7,484.3L608.5,493.4L599.7,501.3L590.6,508.0L580.9,513.6L570.9,518.1L560.4,521.5L549.6,524.0L538.4,525.5L526.9,526.3L515.1,526.3L503.0,525.7L490.6,524.6L478.0,523.2L465.2,521.6L452.2,519.9L439.1,518.3L425.9,516.8L412.5,515.6L399.1,514.7L385.6,514.3L372.2,514.3L358.7,514.7L345.3,515.6L331.9,516.8L318.7,518.3L305.6,519.9L292.6,521.6L279.8,523.2L267.2,524.6L254.9,525.7L242.8,526.3L230.9,526.3L219.4,525.5L208.2,524.0L197.4,521.5L187.0,518.1L176.9,513.6L167.3,508.0L158.1,501.3L149.3,493.4L141.1,484.3L133.3,474.1L126.0,462.8L119.3,450.3L113.1,436.8L107.5,422.3L102.4,406.9L97.9,390.6L93.9,373.6L90.6,355.8L87.8,337.6L85.7,318.8L84.2,299.7L83.3,280.4L83.0,260.9Z" fill="#f3c8b2"/>
<path d="M85.0,260.9L85.3,241.8L86.2,222.7L87.8,203.9L89.9,185.5L92.6,167.5L95.9,150.1L99.8,133.3L104.3,117.3L109.3,102.1L115.0,87.8L121.1,74.6L127.8,62.4L135.0,51.2L142.7,41.2L150.9,32.3L159.6,24.6L168.7,18.0L178.3,12.5L188.3,8.1L198.7,4.8L209.4,2.4L220.5,1.0L232.0,0.3L243.7,0.3L255.7,1.0L268.0,2.1L280.5,3.5L293.2,5.2L306.1,6.9L319.1,8.5L332.3,10.0L345.5,11.2L358.9,12.1L372.2,12.6L385.6,12.6L399.0,12.1L412.3,11.2L425.5,10.0L438.7,8.5L451.7,6.9L464.6,5.2L477.3,3.5L489.8,2.1L502.1,1.0L514.1,0.3L525.9,0.3L537.3,1.0L548.4,2.4L559.1,4.8L569.5,8.1L579.5,12.5L589.1,18.0L598.2,24.6L606.9,32.3L615.1,41.2L622.8,51.2L630.0,62.4L636.7,74.6L642.9,87.8L648.5,102.1L653.5,117.3L658.0,133.3L661.9,150.1L665.2,167.5L667.9,185.5L670.1,203.9L671.6,222.7L672.5,241.8L672.8,260.9L672.8,260.9L672.5,280.1L671.6,299.1L670.1,317.9L667.9,336.3L665.2,354.3L661.9,371.8L658.0,388.5L653.5,404.5L648.5,419.7L642.9,434.0L636.7,447.2L630.0,459.5L622.8,470.6L615.1,480.6L606.9,489.5L598.2,497.2L589.1,503.8L579.5,509.3L569.5,513.7L559.1,517.0L548.4,519.4L537.3,520.8L525.9,521.5L514.1,521.5L502.1,520.8L489.8,519.7L477.3,518.3L464.6,516.6L451.7,514.9L438.7,513.3L425.5,511.8L412.3,510.6L399.0,509.7L385.6,509.3L372.2,509.3L358.9,509.7L345.5,510.6L332.3,511.8L319.1,513.3L306.1,514.9L293.2,516.6L280.5,518.3L268.0,519.7L255.7,520.8L243.7,521.5L232.0,521.5L220.5,520.8L209.4,519.4L198.7,517.0L188.3,513.7L178.3,509.3L168.7,503.8L159.6,497.2L150.9,489.5L142.7,480.6L135.0,470.6L127.8,459.5L121.1,447.2L115.0,434.0L109.3,419.7L104.3,404.5L99.8,388.5L95.9,371.8L92.6,354.3L89.9,336.3L87.8,317.9L86.2,299.1L85.3,280.1L85.0,260.9Z" fill="#f0cdbb"/>
<path d="M87.1,260.9L87.4,242.1L88.3,223.4L89.8,204.9L92.0,186.7L94.7,169.0L97.9,151.9L101.8,135.4L106.3,119.7L111.3,104.8L116.9,90.8L123.0,77.7L129.6,65.7L136.8,54.8L144.4,45.0L152.6,36.3L161.2,28.7L170.3,22.3L179.8,16.9L189.7,12.7L200.0,9.4L210.6,7.1L221.7,5.8L233.0,5.2L244.7,5.3L256.6,5.9L268.8,7.1L281.2,8.5L293.8,10.2L306.6,12.0L319.5,13.6L332.6,15.1L345.8,16.4L359.0,17.2L372.3,17.7L385.6,17.7L398.8,17.2L412.1,16.4L425.2,15.1L438.3,13.6L451.2,12.0L464.0,10.2L476.6,8.5L489.0,7.1L501.2,5.9L513.1,5.3L524.8,5.2L536.2,5.8L547.2,7.1L557.9,9.4L568.2,12.7L578.1,16.9L587.6,22.3L596.6,28.7L605.2,36.3L613.4,45.0L621.1,54.8L628.2,65.7L634.9,77.7L641.0,90.8L646.5,104.8L651.5,119.7L656.0,135.4L659.9,151.9L663.2,169.0L665.9,186.7L668.0,204.9L669.5,223.4L670.4,242.1L670.7,260.9L670.7,260.9L670.4,279.7L669.5,298.5L668.0,316.9L665.9,335.1L663.2,352.8L659.9,369.9L656.0,386.4L651.5,402.1L646.5,417.0L641.0,431.0L634.9,444.1L628.2,456.1L621.1,467.0L613.4,476.8L605.2,485.5L596.6,493.1L587.6,499.6L578.1,504.9L568.2,509.1L557.9,512.4L547.2,514.7L536.2,516.1L524.8,516.6L513.1,516.6L501.2,515.9L489.0,514.7L476.6,513.3L464.0,511.6L451.2,509.9L438.3,508.2L425.2,506.7L412.1,505.4L398.8,504.6L385.6,504.1L372.3,504.1L359.0,504.6L345.8,505.4L332.6,506.7L319.5,508.2L306.6,509.9L293.8,511.6L281.2,513.3L268.8,514.7L256.6,515.9L244.7,516.6L233.0,516.6L221.7,516.1L210.6,514.7L200.0,512.4L189.7,509.1L179.8,504.9L170.3,499.6L161.2,493.1L152.6,485.5L144.4,476.8L136.8,467.0L129.6,456.1L123.0,444.1L116.9,431.0L111.3,417.0L106.3,402.1L101.8,386.4L97.9,369.9L94.7,352.8L92.0,335.1L89.8,316.9L88.3,298.5L87.4,279.7L87.1,260.9Z" fill="#edd2c3"/>
<path d="M89.3,260.9L89.6,242.4L90.5,224.0L92.0,205.8L94.1,188.0L96.8,170.6L100.0,153.8L103.9,137.6L108.3,122.1L113.3,107.5L118.8,93.7L124.9,80.9L131.5,69.2L138.6,58.4L146.2,48.8L154.3,40.3L162.8,32.9L171.8,26.6L181.2,21.4L191.1,17.3L201.3,14.1L211.9,11.9L222.8,10.6L234.1,10.1L245.7,10.3L257.5,11.0L269.6,12.2L281.9,13.7L294.4,15.4L307.1,17.1L320.0,18.8L333.0,20.3L346.0,21.6L359.1,22.4L372.3,22.9L385.5,22.9L398.7,22.4L411.8,21.6L424.9,20.3L437.8,18.8L450.7,17.1L463.4,15.4L475.9,13.7L488.2,12.2L500.3,11.0L512.1,10.3L523.7,10.1L535.0,10.6L545.9,11.9L556.5,14.1L566.7,17.3L576.6,21.4L586.0,26.6L595.0,32.9L603.6,40.3L611.7,48.8L619.3,58.4L626.4,69.2L633.0,80.9L639.0,93.7L644.5,107.5L649.5,122.1L653.9,137.6L657.8,153.8L661.0,170.6L663.7,188.0L665.8,205.8L667.3,224.0L668.2,242.4L668.5,260.9L668.5,260.9L668.2,279.4L667.3,297.8L665.8,316.0L663.7,333.8L661.0,351.2L657.8,368.0L653.9,384.2L649.5,399.7L644.5,414.3L639.0,428.1L633.0,440.9L626.4,452.6L619.3,463.4L611.7,473.0L603.6,481.5L595.0,488.9L586.0,495.2L576.6,500.4L566.7,504.5L556.5,507.7L545.9,509.9L535.0,511.2L523.7,511.7L512.1,511.5L500.3,510.8L488.2,509.6L475.9,508.1L463.4,506.4L450.7,504.7L437.8,503.0L424.9,501.5L411.8,500.2L398.7,499.4L385.5,498.9L372.3,498.9L359.1,499.4L346.0,500.2L333.0,501.5L320.0,503.0L307.1,504.7L294.4,506.4L281.9,508.1L269.6,509.6L257.5,510.8L245.7,511.5L234.1,511.7L222.8,511.2L211.9,509.9L201.3,507.7L191.1,504.5L181.2,500.4L171.8,495.2L162.8,488.9L154.3,481.5L146.2,473.0L138.6,463.4L131.5,452.6L124.9,440.9L118.8,428.1L113.3,414.3L108.3,399.7L103.9,384.2L100.0,368.0L96.8,351.2L94.1,333.8L92.0,316.0L90.5,297.8L89.6,279.4L89.3,260.9Z" fill="#e8d6cc"/>
<path d="M91.5,260.9L91.8,242.7L92.7,224.7L94.2,206.8L96.3,189.3L98.9,172.2L102.2,155.7L106.0,139.8L110.4,124.6L115.3,110.2L120.8,96.8L126.8,84.2L133.4,72.7L140.4,62.2L148.0,52.7L156.0,44.4L164.5,37.2L173.4,31.0L182.8,26.0L192.5,22.0L202.7,18.9L213.2,16.8L224.0,15.6L235.2,15.2L246.7,15.4L258.4,16.2L270.4,17.4L282.7,18.9L295.1,20.6L307.7,22.4L320.4,24.1L333.3,25.7L346.3,26.9L359.3,27.8L372.4,28.2L385.5,28.2L398.5,27.8L411.6,26.9L424.5,25.7L437.4,24.1L450.1,22.4L462.7,20.6L475.1,18.9L487.4,17.4L499.4,16.2L511.1,15.4L522.6,15.2L533.8,15.6L544.6,16.8L555.2,18.9L565.3,22.0L575.1,26.0L584.4,31.0L593.3,37.2L601.8,44.4L609.9,52.7L617.4,62.2L624.5,72.7L631.0,84.2L637.0,96.8L642.5,110.2L647.4,124.6L651.8,139.8L655.6,155.7L658.9,172.2L661.5,189.3L663.6,206.8L665.1,224.7L666.0,242.7L666.3,260.9L666.3,260.9L666.0,279.1L665.1,297.2L663.6,315.0L661.5,332.5L658.9,349.6L655.6,366.1L651.8,382.0L647.4,397.2L642.5,411.6L637.0,425.0L631.0,437.6L624.5,449.1L617.4,459.6L609.9,469.1L601.8,477.4L593.3,484.6L584.4,490.8L575.1,495.8L565.3,499.8L555.2,502.9L544.6,505.0L533.8,506.2L522.6,506.6L511.1,506.4L499.4,505.6L487.4,504.4L475.1,502.9L462.7,501.2L450.1,499.4L437.4,497.7L424.5,496.1L411.6,494.9L398.5,494.0L385.5,493.6L372.4,493.6L359.3,494.0L346.3,494.9L333.3,496.1L320.4,497.7L307.7,499.4L295.1,501.2L282.7,502.9L270.4,504.4L258.4,505.6L246.7,506.4L235.2,506.6L224.0,506.2L213.2,505.0L202.7,502.9L192.5,499.8L182.8,495.8L173.4,490.8L164.5,484.6L156.0,477.4L148.0,469.1L140.4,459.6L133.4,449.1L126.8,437.6L120.8,425.0L115.3,411.6L110.4,397.2L106.0,382.0L102.2,366.1L98.9,349.6L96.3,332.5L94.2,315.0L92.7,297.2L91.8,279.1L91.5,260.9Z" fill="#e2dad5"/>
<path d="M93.8,260.9L94.1,243.1L95.0,225.3L96.5,207.8L98.5,190.6L101.2,173.9L104.4,157.6L108.2,142.1L112.5,127.2L117.4,113.1L122.9,99.9L128.8,87.6L135.3,76.3L142.3,66.0L149.8,56.8L157.8,48.6L166.2,41.5L175.0,35.6L184.3,30.7L194.0,26.8L204.1,23.8L214.5,21.9L225.3,20.7L236.4,20.3L247.8,20.6L259.4,21.4L271.3,22.7L283.4,24.3L295.8,26.0L308.3,27.8L320.9,29.6L333.7,31.1L346.5,32.4L359.5,33.3L372.4,33.7L385.4,33.7L398.4,33.3L411.3,32.4L424.1,31.1L436.9,29.6L449.6,27.8L462.1,26.0L474.4,24.3L486.5,22.7L498.4,21.4L510.1,20.6L521.5,20.3L532.5,20.7L543.3,21.9L553.7,23.8L563.8,26.8L573.5,30.7L582.8,35.6L591.6,41.5L600.1,48.6L608.0,56.8L615.5,66.0L622.5,76.3L629.0,87.6L635.0,99.9L640.4,113.1L645.3,127.2L649.6,142.1L653.4,157.6L656.6,173.9L659.3,190.6L661.3,207.8L662.8,225.3L663.7,243.1L664.0,260.9L664.0,260.9L663.7,278.7L662.8,296.5L661.3,314.0L659.3,331.2L656.6,347.9L653.4,364.2L649.6,379.8L645.3,394.6L640.4,408.7L635.0,422.0L629.0,434.2L622.5,445.5L615.5,455.8L608.0,465.1L600.1,473.2L591.6,480.3L582.8,486.2L573.5,491.2L563.8,495.0L553.7,498.0L543.3,500.0L532.5,501.1L521.5,501.5L510.1,501.2L498.4,500.4L486.5,499.1L474.4,497.5L462.1,495.8L449.6,494.0L436.9,492.2L424.1,490.7L411.3,489.4L398.4,488.5L385.4,488.1L372.4,488.1L359.5,488.5L346.5,489.4L333.7,490.7L320.9,492.2L308.3,494.0L295.8,495.8L283.4,497.5L271.3,499.1L259.4,500.4L247.8,501.2L236.4,501.5L225.3,501.1L214.5,500.0L204.1,498.0L194.0,495.0L184.3,491.2L175.0,486.2L166.2,480.3L157.8,473.2L149.8,465.1L142.3,455.8L135.3,445.5L128.8,434.2L122.9,422.0L117.4,408.7L112.5,394.6L108.2,379.8L104.4,364.2L101.2,347.9L98.5,331.2L96.5,314.0L95.0,296.5L94.1,278.7L93.8,260.9Z" fill="#dddcdc"/>
<path d="M96.2,260.9L96.5,243.4L97.4,226.0L98.8,208.8L100.9,192.0L103.5,175.6L106.7,159.7L110.4,144.4L114.7,129.8L119.6,116.0L125.0,103.0L130.9,91.0L137.4,79.9L144.3,69.9L151.7,60.9L159.6,52.9L168.0,46.0L176.7,40.2L185.9,35.4L195.5,31.7L205.5,28.9L215.9,27.0L226.6,25.9L237.6,25.6L248.8,26.0L260.4,26.8L272.2,28.2L284.2,29.8L296.5,31.6L308.9,33.4L321.4,35.1L334.0,36.7L346.8,38.0L359.6,38.9L372.5,39.3L385.3,39.3L398.2,38.9L411.0,38.0L423.8,36.7L436.4,35.1L449.0,33.4L461.4,31.6L473.6,29.8L485.6,28.2L497.4,26.8L509.0,26.0L520.3,25.6L531.3,25.9L541.9,27.0L552.3,28.9L562.3,31.7L571.9,35.4L581.1,40.2L589.9,46.0L598.2,52.9L606.1,60.9L613.5,69.9L620.5,79.9L626.9,91.0L632.8,103.0L638.2,116.0L643.1,129.8L647.4,144.4L651.1,159.7L654.3,175.6L657.0,192.0L659.0,208.8L660.5,226.0L661.3,243.4L661.6,260.9L661.6,260.9L661.3,278.4L660.5,295.8L659.0,313.0L657.0,329.8L654.3,346.2L651.1,362.2L647.4,377.4L643.1,392.0L638.2,405.8L632.8,418.8L626.9,430.8L620.5,441.9L613.5,451.9L606.1,460.9L598.2,468.9L589.9,475.8L581.1,481.6L571.9,486.4L562.3,490.1L552.3,492.9L541.9,494.8L531.3,495.9L520.3,496.2L509.0,495.8L497.4,495.0L485.6,493.6L473.6,492.0L461.4,490.2L449.0,488.4L436.4,486.7L423.8,485.1L411.0,483.8L398.2,482.9L385.3,482.5L372.5,482.5L359.6,482.9L346.8,483.8L334.0,485.1L321.4,486.7L308.9,488.4L296.5,490.2L284.2,492.0L272.2,493.6L260.4,495.0L248.8,495.8L237.6,496.2L226.6,495.9L215.9,494.8L205.5,492.9L195.5,490.1L185.9,486.4L176.7,481.6L168.0,475.8L159.6,468.9L151.7,460.9L144.3,451.9L137.4,441.9L130.9,430.8L125.0,418.8L119.6,405.8L114.7,392.0L110.4,377.4L106.7,362.2L103.5,346.2L100.9,329.8L98.8,313.0L97.4,295.8L96.5,278.4L96.2,260.9Z" fill="#d7dce3"/>
<path d="M98.6,260.9L98.9,243.8L99.8,226.7L101.2,209.9L103.3,193.4L105.9,177.3L109.0,161.7L112.7,146.7L117.0,132.4L121.8,118.9L127.2,106.3L133.1,94.5L139.4,83.7L146.3,73.9L153.7,65.1L161.5,57.3L169.8,50.6L178.5,45.0L187.6,40.3L197.1,36.7L207.0,34.0L217.3,32.2L227.9,31.3L238.8,31.0L250.0,31.4L261.4,32.4L273.1,33.7L285.1,35.4L297.2,37.2L309.5,39.1L321.9,40.9L334.4,42.4L347.1,43.7L359.8,44.6L372.5,45.1L385.3,45.1L398.0,44.6L410.7,43.7L423.4,42.4L435.9,40.9L448.4,39.1L460.7,37.2L472.8,35.4L484.7,33.7L496.4,32.4L507.9,31.4L519.0,31.0L530.0,31.3L540.5,32.2L550.8,34.0L560.7,36.7L570.2,40.3L579.3,45.0L588.0,50.6L596.3,57.3L604.1,65.1L611.5,73.9L618.4,83.7L624.8,94.5L630.6,106.3L636.0,118.9L640.8,132.4L645.1,146.7L648.8,161.7L652.0,177.3L654.6,193.4L656.6,209.9L658.0,226.7L658.9,243.8L659.2,260.9L659.2,260.9L658.9,278.1L658.0,295.1L656.6,311.9L654.6,328.4L652.0,344.5L648.8,360.1L645.1,375.1L640.8,389.4L636.0,402.9L630.6,415.5L624.8,427.3L618.4,438.1L611.5,448.0L604.1,456.7L596.3,464.5L588.0,471.2L579.3,476.9L570.2,481.5L560.7,485.1L550.8,487.8L540.5,489.6L530.0,490.5L519.0,490.8L507.9,490.4L496.4,489.4L484.7,488.1L472.8,486.4L460.7,484.6L448.4,482.7L435.9,480.9L423.4,479.4L410.7,478.1L398.0,477.2L385.3,476.7L372.5,476.7L359.8,477.2L347.1,478.1L334.4,479.4L321.9,480.9L309.5,482.7L297.2,484.6L285.1,486.4L273.1,488.1L261.4,489.4L250.0,490.4L238.8,490.8L227.9,490.5L217.3,489.6L207.0,487.8L197.1,485.1L187.6,481.5L178.5,476.9L169.8,471.2L161.5,464.5L153.7,456.7L146.3,448.0L139.4,438.1L133.1,427.3L127.2,415.5L121.8,402.9L117.0,389.4L112.7,375.1L109.0,360.1L105.9,344.5L103.3,328.4L101.2,311.9L99.8,295.1L98.9,278.1L98.6,260.9Z" fill="#d1dae9"/>
<path d="M101.2,260.9L101.4,244.1L102.3,227.4L103.7,211.0L105.7,194.8L108.3,179.0L111.5,163.8L115.1,149.2L119.4,135.2L124.2,122.0L129.5,109.6L135.3,98.1L141.6,87.5L148.4,77.9L155.7,69.4L163.5,61.8L171.7,55.3L180.3,49.8L189.3,45.3L198.8,41.9L208.6,39.3L218.7,37.6L229.2,36.7L240.0,36.6L251.1,37.1L262.5,38.1L274.1,39.5L285.9,41.2L297.9,43.0L310.1,44.9L322.4,46.7L334.8,48.3L347.4,49.6L360.0,50.5L372.6,51.0L385.2,51.0L397.9,50.5L410.5,49.6L423.0,48.3L435.4,46.7L447.7,44.9L459.9,43.0L471.9,41.2L483.7,39.5L495.3,38.1L506.7,37.1L517.8,36.6L528.6,36.7L539.1,37.6L549.2,39.3L559.1,41.9L568.5,45.3L577.5,49.8L586.2,55.3L594.4,61.8L602.1,69.4L609.4,77.9L616.2,87.5L622.6,98.1L628.4,109.6L633.7,122.0L638.4,135.2L642.7,149.2L646.4,163.8L649.5,179.0L652.1,194.8L654.1,211.0L655.5,227.4L656.4,244.1L656.7,260.9L656.7,260.9L656.4,277.7L655.5,294.4L654.1,310.8L652.1,327.0L649.5,342.8L646.4,358.0L642.7,372.7L638.4,386.6L633.7,399.8L628.4,412.2L622.6,423.7L616.2,434.3L609.4,443.9L602.1,452.4L594.4,460.0L586.2,466.5L577.5,472.0L568.5,476.5L559.1,480.0L549.2,482.5L539.1,484.2L528.6,485.1L517.8,485.2L506.7,484.7L495.3,483.7L483.7,482.3L471.9,480.6L459.9,478.8L447.7,476.9L435.4,475.1L423.0,473.5L410.5,472.2L397.9,471.3L385.2,470.8L372.6,470.8L360.0,471.3L347.4,472.2L334.8,473.5L322.4,475.1L310.1,476.9L297.9,478.8L285.9,480.6L274.1,482.3L262.5,483.7L251.1,484.7L240.0,485.2L229.2,485.1L218.7,484.2L208.6,482.5L198.8,480.0L189.3,476.5L180.3,472.0L171.7,466.5L163.5,460.0L155.7,452.4L148.4,443.9L141.6,434.3L135.3,423.7L129.5,412.2L124.2,399.8L119.4,386.6L115.1,372.7L111.5,358.0L108.3,342.8L105.7,327.0L103.7,310.8L102.3,294.4L101.4,277.7L101.2,260.9Z" fill="#cad8ef"/>
<path d="M103.8,260.9L104.1,244.5L104.9,228.2L106.3,212.1L108.3,196.3L110.9,180.9L114.0,166.0L117.6,151.6L121.8,138.0L126.5,125.1L131.8,113.0L137.6,101.8L143.8,91.5L150.6,82.1L157.8,73.8L165.5,66.4L173.6,60.1L182.2,54.8L191.1,50.5L200.5,47.1L210.2,44.7L220.2,43.1L230.6,42.4L241.3,42.3L252.3,42.9L263.6,43.9L275.1,45.4L286.8,47.1L298.7,49.0L310.7,50.9L322.9,52.8L335.2,54.4L347.7,55.7L360.1,56.6L372.6,57.1L385.2,57.1L397.7,56.6L410.2,55.7L422.6,54.4L434.9,52.8L447.1,50.9L459.2,49.0L471.0,47.1L482.8,45.4L494.2,43.9L505.5,42.9L516.5,42.3L527.2,42.4L537.6,43.1L547.6,44.7L557.4,47.1L566.7,50.5L575.7,54.8L584.2,60.1L592.3,66.4L600.0,73.8L607.2,82.1L614.0,91.5L620.3,101.8L626.0,113.0L631.3,125.1L636.0,138.0L640.2,151.6L643.9,166.0L647.0,180.9L649.5,196.3L651.5,212.1L652.9,228.2L653.8,244.5L654.1,260.9L654.1,260.9L653.8,277.3L652.9,293.6L651.5,309.7L649.5,325.5L647.0,340.9L643.9,355.8L640.2,370.2L636.0,383.8L631.3,396.7L626.0,408.8L620.3,420.0L614.0,430.3L607.2,439.7L600.0,448.0L592.3,455.4L584.2,461.7L575.7,467.0L566.7,471.3L557.4,474.7L547.6,477.1L537.6,478.7L527.2,479.4L516.5,479.5L505.5,479.0L494.2,477.9L482.8,476.4L471.0,474.7L459.2,472.8L447.1,470.9L434.9,469.0L422.6,467.4L410.2,466.1L397.7,465.2L385.2,464.7L372.6,464.7L360.1,465.2L347.7,466.1L335.2,467.4L322.9,469.0L310.7,470.9L298.7,472.8L286.8,474.7L275.1,476.4L263.6,477.9L252.3,479.0L241.3,479.5L230.6,479.4L220.2,478.7L210.2,477.1L200.5,474.7L191.1,471.3L182.2,467.0L173.6,461.7L165.5,455.4L157.8,448.0L150.6,439.7L143.8,430.3L137.6,420.0L131.8,408.8L126.5,396.7L121.8,383.8L117.6,370.2L114.0,355.8L110.9,340.9L108.3,325.5L106.3,309.7L104.9,293.6L104.1,277.3L103.8,260.9Z" fill="#c4d5f3"/>
<path d="M106.5,260.9L106.8,244.9L107.6,228.9L109.0,213.2L111.0,197.8L113.5,182.7L116.6,168.2L120.2,154.2L124.3,140.9L129.0,128.3L134.2,116.5L139.9,105.6L146.1,95.5L152.8,86.4L160.0,78.3L167.6,71.2L175.6,65.1L184.1,59.9L193.0,55.8L202.2,52.6L211.8,50.3L221.8,48.8L232.1,48.1L242.7,48.2L253.6,48.8L264.7,49.9L276.1,51.4L287.7,53.2L299.5,55.2L311.4,57.1L323.5,59.0L335.7,60.6L348.0,61.9L360.3,62.9L372.7,63.3L385.1,63.3L397.5,62.9L409.9,61.9L422.1,60.6L434.3,59.0L446.4,57.1L458.4,55.2L470.1,53.2L481.7,51.4L493.1,49.9L504.2,48.8L515.1,48.2L525.7,48.1L536.0,48.8L546.0,50.3L555.6,52.6L564.9,55.8L573.7,59.9L582.2,65.1L590.2,71.2L597.8,78.3L605.0,86.4L611.7,95.5L617.9,105.6L623.6,116.5L628.8,128.3L633.5,140.9L637.6,154.2L641.2,168.2L644.3,182.7L646.8,197.8L648.8,213.2L650.2,228.9L651.1,244.9L651.3,260.9L651.3,260.9L651.1,276.9L650.2,292.9L648.8,308.6L646.8,324.0L644.3,339.1L641.2,353.6L637.6,367.6L633.5,380.9L628.8,393.5L623.6,405.3L617.9,416.3L611.7,426.3L605.0,435.4L597.8,443.5L590.2,450.6L582.2,456.7L573.7,461.9L564.9,466.0L555.6,469.2L546.0,471.5L536.0,473.0L525.7,473.7L515.1,473.6L504.2,473.0L493.1,471.9L481.7,470.4L470.1,468.6L458.4,466.6L446.4,464.7L434.3,462.8L422.1,461.2L409.9,459.9L397.5,458.9L385.1,458.5L372.7,458.5L360.3,458.9L348.0,459.9L335.7,461.2L323.5,462.8L311.4,464.7L299.5,466.6L287.7,468.6L276.1,470.4L264.7,471.9L253.6,473.0L242.7,473.6L232.1,473.7L221.8,473.0L211.8,471.5L202.2,469.2L193.0,466.0L184.1,461.9L175.6,456.7L167.6,450.6L160.0,443.5L152.8,435.4L146.1,426.3L139.9,416.3L134.2,405.3L129.0,393.5L124.3,380.9L120.2,367.6L116.6,353.6L113.5,339.1L111.0,324.0L109.0,308.6L107.6,292.9L106.8,276.9L106.5,260.9Z" fill="#bcd2f7"/>
<path d="M109.3,260.9L109.6,245.3L110.4,229.7L111.8,214.4L113.7,199.3L116.2,184.6L119.3,170.4L122.9,156.8L127.0,143.8L131.6,131.6L136.7,120.1L142.4,109.5L148.5,99.7L155.1,90.9L162.2,83.0L169.8,76.1L177.7,70.2L186.1,65.2L194.9,61.2L204.0,58.2L213.6,56.0L223.4,54.7L233.6,54.1L244.1,54.2L254.9,54.9L265.9,56.1L277.1,57.7L288.6,59.5L300.3,61.5L312.1,63.5L324.1,65.4L336.1,67.1L348.3,68.4L360.5,69.3L372.8,69.8L385.0,69.8L397.3,69.3L409.5,68.4L421.7,67.1L433.8,65.4L445.7,63.5L457.5,61.5L469.2,59.5L480.7,57.7L491.9,56.1L503.0,54.9L513.7,54.2L524.2,54.1L534.4,54.7L544.3,56.0L553.8,58.2L562.9,61.2L571.7,65.2L580.1,70.2L588.1,76.1L595.6,83.0L602.7,90.9L609.3,99.7L615.4,109.5L621.1,120.1L626.2,131.6L630.8,143.8L635.0,156.8L638.5,170.4L641.6,184.6L644.1,199.3L646.0,214.4L647.4,229.7L648.3,245.3L648.5,260.9L648.5,260.9L648.3,276.6L647.4,292.1L646.0,307.4L644.1,322.5L641.6,337.2L638.5,351.4L635.0,365.0L630.8,378.0L626.2,390.2L621.1,401.7L615.4,412.4L609.3,422.1L602.7,430.9L595.6,438.8L588.1,445.7L580.1,451.6L571.7,456.6L562.9,460.6L553.8,463.6L544.3,465.8L534.4,467.1L524.2,467.7L513.7,467.6L503.0,466.9L491.9,465.7L480.7,464.1L469.2,462.3L457.5,460.3L445.7,458.3L433.8,456.4L421.7,454.8L409.5,453.4L397.3,452.5L385.0,452.0L372.8,452.0L360.5,452.5L348.3,453.4L336.1,454.8L324.1,456.4L312.1,458.3L300.3,460.3L288.6,462.3L277.1,464.1L265.9,465.7L254.9,466.9L244.1,467.6L233.6,467.7L223.4,467.1L213.6,465.8L204.0,463.6L194.9,460.6L186.1,456.6L177.7,451.6L169.8,445.7L162.2,438.8L155.1,430.9L148.5,422.1L142.4,412.4L136.7,401.7L131.6,390.2L127.0,378.0L122.9,365.0L119.3,351.4L116.2,337.2L113.7,322.5L111.8,307.4L110.4,292.1L109.6,276.6L109.3,260.9Z" fill="#b5cdfa"/>
<path d="M112.2,260.9L112.5,245.7L113.3,230.5L114.7,215.6L116.6,200.9L119.1,186.6L122.1,172.8L125.6,159.5L129.7,146.9L134.3,135.0L139.4,123.8L145.0,113.5L151.0,104.0L157.6,95.4L164.6,87.8L172.0,81.1L179.9,75.4L188.2,70.7L196.9,66.9L205.9,64.0L215.4,61.9L225.1,60.7L235.2,60.3L245.6,60.5L256.2,61.3L267.1,62.5L278.3,64.2L289.6,66.1L301.1,68.1L312.8,70.1L324.6,72.0L336.6,73.7L348.6,75.1L360.7,76.0L372.8,76.5L385.0,76.5L397.1,76.0L409.2,75.1L421.2,73.7L433.2,72.0L445.0,70.1L456.7,68.1L468.2,66.1L479.6,64.2L490.7,62.5L501.6,61.3L512.3,60.5L522.6,60.3L532.7,60.7L542.5,61.9L551.9,64.0L560.9,66.9L569.6,70.7L577.9,75.4L585.8,81.1L593.2,87.8L600.2,95.4L606.8,104.0L612.9,113.5L618.4,123.8L623.5,135.0L628.1,146.9L632.2,159.5L635.7,172.8L638.7,186.6L641.2,200.9L643.1,215.6L644.5,230.5L645.3,245.7L645.6,260.9L645.6,260.9L645.3,276.1L644.5,291.3L643.1,306.2L641.2,320.9L638.7,335.2L635.7,349.0L632.2,362.3L628.1,374.9L623.5,386.8L618.4,398.0L612.9,408.3L606.8,417.8L600.2,426.4L593.2,434.0L585.8,440.7L577.9,446.4L569.6,451.1L560.9,454.9L551.9,457.8L542.5,459.9L532.7,461.1L522.6,461.5L512.3,461.3L501.6,460.6L490.7,459.3L479.6,457.6L468.2,455.8L456.7,453.7L445.0,451.7L433.2,449.8L421.2,448.1L409.2,446.7L397.1,445.8L385.0,445.3L372.8,445.3L360.7,445.8L348.6,446.7L336.6,448.1L324.6,449.8L312.8,451.7L301.1,453.7L289.6,455.8L278.3,457.6L267.1,459.3L256.2,460.6L245.6,461.3L235.2,461.5L225.1,461.1L215.4,459.9L205.9,457.8L196.9,454.9L188.2,451.1L179.9,446.4L172.0,440.7L164.6,434.0L157.6,426.4L151.0,417.8L145.0,408.3L139.4,398.0L134.3,386.8L129.7,374.9L125.6,362.3L122.1,349.0L119.1,335.2L116.6,320.9L114.7,306.2L113.3,291.3L112.5,276.1L112.2,260.9Z" fill="#aec9fc"/>
<path d="M115.3,260.9L115.5,246.1L116.4,231.3L117.7,216.8L119.6,202.5L122.1,188.6L125.0,175.2L128.5,162.3L132.6,150.1L137.1,138.5L142.1,127.6L147.6,117.6L153.6,108.4L160.1,100.2L167.0,92.8L174.4,86.4L182.2,80.9L190.4,76.3L199.0,72.7L207.9,69.9L217.2,68.1L226.9,67.0L236.8,66.6L247.1,66.9L257.6,67.8L268.4,69.1L279.4,70.9L290.6,72.8L302.0,74.9L313.6,77.0L325.3,78.9L337.1,80.6L349.0,82.0L360.9,83.0L372.9,83.5L384.9,83.5L396.9,83.0L408.9,82.0L420.7,80.6L432.6,78.9L444.2,77.0L455.8,74.9L467.2,72.8L478.4,70.9L489.4,69.1L500.2,67.8L510.7,66.9L521.0,66.6L531.0,67.0L540.6,68.1L549.9,69.9L558.9,72.7L567.4,76.3L575.6,80.9L583.4,86.4L590.8,92.8L597.7,100.2L604.2,108.4L610.2,117.6L615.7,127.6L620.7,138.5L625.3,150.1L629.3,162.3L632.8,175.2L635.8,188.6L638.2,202.5L640.1,216.8L641.5,231.3L642.3,246.1L642.6,260.9L642.6,260.9L642.3,275.7L641.5,290.5L640.1,305.0L638.2,319.3L635.8,333.2L632.8,346.6L629.3,359.5L625.3,371.7L620.7,383.3L615.7,394.2L610.2,404.2L604.2,413.4L597.7,421.7L590.8,429.0L583.4,435.5L575.6,440.9L567.4,445.5L558.9,449.1L549.9,451.9L540.6,453.7L531.0,454.8L521.0,455.2L510.7,454.9L500.2,454.0L489.4,452.7L478.4,451.0L467.2,449.0L455.8,446.9L444.2,444.9L432.6,442.9L420.7,441.2L408.9,439.8L396.9,438.8L384.9,438.3L372.9,438.3L360.9,438.8L349.0,439.8L337.1,441.2L325.3,442.9L313.6,444.9L302.0,446.9L290.6,449.0L279.4,451.0L268.4,452.7L257.6,454.0L247.1,454.9L236.8,455.2L226.9,454.8L217.2,453.7L207.9,451.9L199.0,449.1L190.4,445.5L182.2,440.9L174.4,435.5L167.0,429.0L160.1,421.7L153.6,413.4L147.6,404.2L142.1,394.2L137.1,383.3L132.6,371.7L128.5,359.5L125.0,346.6L122.1,333.2L119.6,319.3L117.7,305.0L116.4,290.5L115.5,275.7L115.3,260.9Z" fill="#a6c4fe"/>
<path d="M118.5,260.9L118.7,246.5L119.5,232.2L120.9,218.1L122.8,204.2L125.2,190.8L128.1,177.7L131.6,165.2L135.5,153.3L140.0,142.1L145.0,131.6L150.4,121.9L156.4,113.0L162.8,105.0L169.6,97.9L176.9,91.8L184.6,86.5L192.7,82.1L201.1,78.7L210.0,76.1L219.2,74.4L228.7,73.4L238.6,73.2L248.7,73.6L259.1,74.6L269.7,76.0L280.6,77.8L291.7,79.8L302.9,81.9L314.4,84.1L325.9,86.1L337.6,87.8L349.3,89.2L361.1,90.2L373.0,90.7L384.8,90.7L396.7,90.2L408.5,89.2L420.2,87.8L431.9,86.1L443.5,84.1L454.9,81.9L466.1,79.8L477.2,77.8L488.1,76.0L498.7,74.6L509.1,73.6L519.3,73.2L529.1,73.4L538.6,74.4L547.8,76.1L556.7,78.7L565.2,82.1L573.3,86.5L580.9,91.8L588.2,97.9L595.1,105.0L601.4,113.0L607.4,121.9L612.8,131.6L617.8,142.1L622.3,153.3L626.2,165.2L629.7,177.7L632.6,190.8L635.1,204.2L636.9,218.1L638.3,232.2L639.1,246.5L639.4,260.9L639.4,260.9L639.1,275.3L638.3,289.6L636.9,303.7L635.1,317.6L632.6,331.0L629.7,344.1L626.2,356.6L622.3,368.5L617.8,379.7L612.8,390.2L607.4,399.9L601.4,408.8L595.1,416.8L588.2,423.9L580.9,430.1L573.3,435.3L565.2,439.7L556.7,443.1L547.8,445.7L538.6,447.4L529.1,448.4L519.3,448.6L509.1,448.2L498.7,447.2L488.1,445.8L477.2,444.0L466.1,442.0L454.9,439.9L443.5,437.7L431.9,435.7L420.2,434.0L408.5,432.6L396.7,431.6L384.8,431.1L373.0,431.1L361.1,431.6L349.3,432.6L337.6,434.0L325.9,435.7L314.4,437.7L302.9,439.9L291.7,442.0L280.6,444.0L269.7,445.8L259.1,447.2L248.7,448.2L238.6,448.6L228.7,448.4L219.2,447.4L210.0,445.7L201.1,443.1L192.7,439.7L184.6,435.3L176.9,430.1L169.6,423.9L162.8,416.8L156.4,408.8L150.4,399.9L145.0,390.2L140.0,379.7L135.5,368.5L131.6,356.6L128.1,344.1L125.2,331.0L122.8,317.6L120.9,303.7L119.5,289.6L118.7,275.3L118.5,260.9Z" fill="#9ebeff"/>
<path d="M121.8,260.9L122.1,247.0L122.9,233.1L124.2,219.4L126.1,206.0L128.4,192.9L131.3,180.3L134.8,168.2L138.7,156.7L143.1,145.9L148.0,135.7L153.4,126.4L159.2,117.8L165.5,110.1L172.3,103.3L179.5,97.4L187.1,92.3L195.1,88.2L203.4,85.0L212.2,82.6L221.2,81.0L230.6,80.2L240.4,80.1L250.4,80.6L260.6,81.7L271.1,83.2L281.9,85.0L292.8,87.1L303.9,89.3L315.2,91.5L326.6,93.5L338.1,95.3L349.7,96.8L361.4,97.8L373.1,98.3L384.8,98.3L396.5,97.8L408.1,96.8L419.7,95.3L431.2,93.5L442.6,91.5L453.9,89.3L465.0,87.1L475.9,85.0L486.7,83.2L497.2,81.7L507.5,80.6L517.5,80.1L527.2,80.2L536.6,81.0L545.7,82.6L554.4,85.0L562.8,88.2L570.8,92.3L578.3,97.4L585.5,103.3L592.3,110.1L598.6,117.8L604.4,126.4L609.8,135.7L614.7,145.9L619.1,156.7L623.1,168.2L626.5,180.3L629.4,192.9L631.8,206.0L633.6,219.4L634.9,233.1L635.7,247.0L636.0,260.9L636.0,260.9L635.7,274.9L634.9,288.7L633.6,302.4L631.8,315.8L629.4,328.9L626.5,341.5L623.1,353.6L619.1,365.1L614.7,375.9L609.8,386.1L604.4,395.4L598.6,404.0L592.3,411.7L585.5,418.5L578.3,424.4L570.8,429.5L562.8,433.6L554.4,436.9L545.7,439.2L536.6,440.8L527.2,441.6L517.5,441.7L507.5,441.2L497.2,440.1L486.7,438.6L475.9,436.8L465.0,434.7L453.9,432.5L442.6,430.3L431.2,428.3L419.7,426.5L408.1,425.0L396.5,424.0L384.8,423.5L373.1,423.5L361.4,424.0L349.7,425.0L338.1,426.5L326.6,428.3L315.2,430.3L303.9,432.5L292.8,434.7L281.9,436.8L271.1,438.6L260.6,440.1L250.4,441.2L240.4,441.7L230.6,441.6L221.2,440.8L212.2,439.2L203.4,436.9L195.1,433.6L187.1,429.5L179.5,424.4L172.3,418.5L165.5,411.7L159.2,404.0L153.4,395.4L148.0,386.1L143.1,375.9L138.7,365.1L134.8,353.6L131.3,341.5L128.4,328.9L126.1,315.8L124.2,302.4L122.9,288.7L122.1,274.9L121.8,260.9Z" fill="#97b8ff"/>
<path d="M125.3,260.9L125.6,247.4L126.4,234.0L127.7,220.8L129.5,207.8L131.9,195.2L134.7,183.0L138.1,171.4L142.0,160.3L146.3,149.8L151.2,140.0L156.5,131.0L162.3,122.8L168.5,115.4L175.1,108.9L182.2,103.2L189.7,98.4L197.6,94.5L205.8,91.5L214.4,89.3L223.4,87.9L232.7,87.2L242.3,87.2L252.1,87.9L262.2,89.0L272.6,90.7L283.2,92.6L294.0,94.8L305.0,97.0L316.1,99.3L327.3,101.3L338.7,103.2L350.1,104.7L361.6,105.7L373.1,106.2L384.7,106.2L396.2,105.7L407.7,104.7L419.1,103.2L430.5,101.3L441.7,99.3L452.9,97.0L463.8,94.8L474.6,92.6L485.2,90.7L495.6,89.0L505.7,87.9L515.6,87.2L525.1,87.2L534.4,87.9L543.4,89.3L552.0,91.5L560.2,94.5L568.1,98.4L575.6,103.2L582.7,108.9L589.3,115.4L595.6,122.8L601.3,131.0L606.7,140.0L611.5,149.8L615.8,160.3L619.7,171.4L623.1,183.0L625.9,195.2L628.3,207.8L630.1,220.8L631.4,234.0L632.2,247.4L632.5,260.9L632.5,260.9L632.2,274.4L631.4,287.8L630.1,301.0L628.3,314.0L625.9,326.6L623.1,338.8L619.7,350.5L615.8,361.6L611.5,372.0L606.7,381.8L601.3,390.8L595.6,399.0L589.3,406.4L582.7,412.9L575.6,418.6L568.1,423.4L560.2,427.3L552.0,430.3L543.4,432.5L534.4,433.9L525.1,434.6L515.6,434.6L505.7,433.9L495.6,432.8L485.2,431.1L474.6,429.2L463.8,427.0L452.9,424.8L441.7,422.5L430.5,420.5L419.1,418.6L407.7,417.1L396.2,416.1L384.7,415.6L373.1,415.6L361.6,416.1L350.1,417.1L338.7,418.6L327.3,420.5L316.1,422.5L305.0,424.8L294.0,427.0L283.2,429.2L272.6,431.1L262.2,432.8L252.1,433.9L242.3,434.6L232.7,434.6L223.4,433.9L214.4,432.5L205.8,430.3L197.6,427.3L189.7,423.4L182.2,418.6L175.1,412.9L168.5,406.4L162.3,399.0L156.5,390.8L151.2,381.8L146.3,372.0L142.0,361.6L138.1,350.5L134.7,338.8L131.9,326.6L129.5,314.0L127.7,301.0L126.4,287.8L125.6,274.4L125.3,260.9Z" fill="#8fb1fe"/>
<path d="M129.1,260.9L129.3,247.9L130.1,235.0L131.4,222.2L133.2,209.7L135.5,197.6L138.3,185.9L141.7,174.6L145.5,163.9L149.8,153.9L154.5,144.5L159.8,135.8L165.4,128.0L171.6,120.9L178.1,114.7L185.1,109.3L192.5,104.8L200.2,101.1L208.4,98.3L216.9,96.3L225.7,95.0L234.8,94.5L244.3,94.7L254.0,95.5L264.0,96.8L274.2,98.5L284.6,100.5L295.2,102.8L306.0,105.1L317.0,107.4L328.1,109.6L339.3,111.5L350.5,113.0L361.9,114.0L373.2,114.6L384.6,114.6L396.0,114.0L407.3,113.0L418.6,111.5L429.7,109.6L440.8,107.4L451.8,105.1L462.6,102.8L473.2,100.5L483.6,98.5L493.9,96.8L503.8,95.5L513.5,94.7L523.0,94.5L532.1,95.0L541.0,96.3L549.4,98.3L557.6,101.1L565.3,104.8L572.7,109.3L579.7,114.7L586.2,120.9L592.4,128.0L598.1,135.8L603.3,144.5L608.1,153.9L612.4,163.9L616.2,174.6L619.5,185.9L622.3,197.6L624.6,209.7L626.4,222.2L627.7,235.0L628.5,247.9L628.8,260.9L628.8,260.9L628.5,273.9L627.7,286.8L626.4,299.6L624.6,312.1L622.3,324.2L619.5,335.9L616.2,347.2L612.4,357.9L608.1,367.9L603.3,377.3L598.1,386.0L592.4,393.8L586.2,400.9L579.7,407.1L572.7,412.5L565.3,417.0L557.6,420.7L549.4,423.5L541.0,425.5L532.1,426.8L523.0,427.3L513.5,427.1L503.8,426.3L493.9,425.0L483.6,423.3L473.2,421.3L462.6,419.0L451.8,416.7L440.8,414.4L429.7,412.2L418.6,410.3L407.3,408.8L396.0,407.8L384.6,407.2L373.2,407.2L361.9,407.8L350.5,408.8L339.3,410.3L328.1,412.2L317.0,414.4L306.0,416.7L295.2,419.0L284.6,421.3L274.2,423.3L264.0,425.0L254.0,426.3L244.3,427.1L234.8,427.3L225.7,426.8L216.9,425.5L208.4,423.5L200.2,420.7L192.5,417.0L185.1,412.5L178.1,407.1L171.6,400.9L165.4,393.8L159.8,386.0L154.5,377.3L149.8,367.9L145.5,357.9L141.7,347.2L138.3,335.9L135.5,324.2L133.2,312.1L131.4,299.6L130.1,286.8L129.3,273.9L129.1,260.9Z" fill="#86a9fc"/>
<path d="M133.0,260.9L133.3,248.4L134.1,236.0L135.3,223.8L137.1,211.8L139.4,200.1L142.2,188.8L145.4,178.0L149.2,167.8L153.4,158.2L158.1,149.2L163.2,140.9L168.8,133.4L174.9,126.7L181.3,120.8L188.2,115.7L195.4,111.4L203.1,108.0L211.1,105.4L219.4,103.6L228.1,102.6L237.1,102.3L246.4,102.6L256.0,103.5L265.8,104.9L275.8,106.8L286.1,108.9L296.6,111.3L307.2,113.7L318.0,116.1L328.9,118.3L339.9,120.2L351.0,121.8L362.1,122.9L373.3,123.5L384.5,123.5L395.7,122.9L406.8,121.8L417.9,120.2L428.9,118.3L439.8,116.1L450.6,113.7L461.2,111.3L471.7,108.9L482.0,106.8L492.0,104.9L501.8,103.5L511.4,102.6L520.7,102.3L529.7,102.6L538.4,103.6L546.7,105.4L554.7,108.0L562.4,111.4L569.6,115.7L576.5,120.8L583.0,126.7L589.0,133.4L594.6,140.9L599.7,149.2L604.4,158.2L608.7,167.8L612.4,178.0L615.7,188.8L618.4,200.1L620.7,211.8L622.5,223.8L623.8,236.0L624.5,248.4L624.8,260.9L624.8,260.9L624.5,273.4L623.8,285.8L622.5,298.1L620.7,310.1L618.4,321.7L615.7,333.0L612.4,343.8L608.7,354.0L604.4,363.6L599.7,372.6L594.6,380.9L589.0,388.4L583.0,395.1L576.5,401.0L569.6,406.1L562.4,410.4L554.7,413.8L546.7,416.4L538.4,418.2L529.7,419.2L520.7,419.5L511.4,419.2L501.8,418.3L492.0,416.9L482.0,415.0L471.7,412.9L461.2,410.5L450.6,408.1L439.8,405.7L428.9,403.5L417.9,401.6L406.8,400.0L395.7,398.9L384.5,398.4L373.3,398.4L362.1,398.9L351.0,400.0L339.9,401.6L328.9,403.5L318.0,405.7L307.2,408.1L296.6,410.5L286.1,412.9L275.8,415.0L265.8,416.9L256.0,418.3L246.4,419.2L237.1,419.5L228.1,419.2L219.4,418.2L211.1,416.4L203.1,413.8L195.4,410.4L188.2,406.1L181.3,401.0L174.9,395.1L168.8,388.4L163.2,380.9L158.1,372.6L153.4,363.6L149.2,354.0L145.4,343.8L142.2,333.0L139.4,321.7L137.1,310.1L135.3,298.1L134.1,285.8L133.3,273.4L133.0,260.9Z" fill="#80a3fa"/>
<path d="M137.3,260.9L137.5,248.9L138.3,237.1L139.5,225.3L141.3,213.9L143.5,202.7L146.2,191.9L149.4,181.6L153.1,171.9L157.3,162.7L161.9,154.1L167.0,146.3L172.5,139.1L178.4,132.8L184.7,127.2L191.5,122.4L198.6,118.5L206.1,115.3L214.0,113.0L222.2,111.4L230.7,110.6L239.6,110.4L248.7,110.9L258.1,112.0L267.7,113.6L277.6,115.5L287.7,117.8L298.0,120.3L308.4,122.8L319.0,125.3L329.7,127.6L340.6,129.6L351.5,131.2L362.4,132.4L373.4,132.9L384.4,132.9L395.4,132.4L406.4,131.2L417.3,129.6L428.1,127.6L438.8,125.3L449.4,122.8L459.8,120.3L470.1,117.8L480.2,115.5L490.1,113.6L499.7,112.0L509.1,110.9L518.3,110.4L527.1,110.6L535.6,111.4L543.8,113.0L551.7,115.3L559.2,118.5L566.3,122.4L573.1,127.2L579.4,132.8L585.4,139.1L590.9,146.3L595.9,154.1L600.5,162.7L604.7,171.9L608.4,181.6L611.6,191.9L614.3,202.7L616.5,213.9L618.3,225.3L619.5,237.1L620.3,248.9L620.5,260.9L620.5,260.9L620.3,272.9L619.5,284.7L618.3,296.5L616.5,307.9L614.3,319.1L611.6,329.9L608.4,340.2L604.7,349.9L600.5,359.1L595.9,367.7L590.9,375.5L585.4,382.7L579.4,389.0L573.1,394.6L566.3,399.4L559.2,403.3L551.7,406.5L543.8,408.8L535.6,410.4L527.1,411.2L518.3,411.4L509.1,410.9L499.7,409.8L490.1,408.2L480.2,406.3L470.1,404.0L459.8,401.5L449.4,399.0L438.8,396.5L428.1,394.2L417.3,392.2L406.4,390.6L395.4,389.5L384.4,388.9L373.4,388.9L362.4,389.5L351.5,390.6L340.6,392.2L329.7,394.2L319.0,396.5L308.4,399.0L298.0,401.5L287.7,404.0L277.6,406.3L267.7,408.2L258.1,409.8L248.7,410.9L239.6,411.4L230.7,411.2L222.2,410.4L214.0,408.8L206.1,406.5L198.6,403.3L191.5,399.4L184.7,394.6L178.4,389.0L172.5,382.7L167.0,375.5L161.9,367.7L157.3,359.1L153.1,349.9L149.4,340.2L146.2,329.9L143.5,319.1L141.3,307.9L139.5,296.5L138.3,284.7L137.5,272.9L137.3,260.9Z" fill="#779af7"/>
<path d="M141.8,260.9L142.1,249.5L142.8,238.2L144.1,227.0L145.8,216.1L148.0,205.5L150.6,195.3L153.8,185.5L157.4,176.2L161.5,167.5L166.0,159.4L171.0,152.0L176.4,145.2L182.2,139.3L188.4,134.0L195.0,129.6L202.0,126.0L209.4,123.1L217.1,121.0L225.2,119.7L233.5,119.1L242.2,119.1L251.2,119.8L260.4,121.1L269.8,122.8L279.5,124.9L289.4,127.3L299.5,129.9L309.8,132.6L320.2,135.2L330.7,137.6L341.3,139.7L352.0,141.4L362.7,142.6L373.5,143.2L384.3,143.2L395.1,142.6L405.8,141.4L416.5,139.7L427.1,137.6L437.7,135.2L448.0,132.6L458.3,129.9L468.4,127.3L478.3,124.9L488.0,122.8L497.4,121.1L506.7,119.8L515.6,119.1L524.3,119.1L532.7,119.7L540.7,121.0L548.4,123.1L555.8,126.0L562.8,129.6L569.4,134.0L575.6,139.3L581.5,145.2L586.9,152.0L591.8,159.4L596.3,167.5L600.4,176.2L604.0,185.5L607.2,195.3L609.9,205.5L612.1,216.1L613.8,227.0L615.0,238.2L615.7,249.5L616.0,260.9L616.0,260.9L615.7,272.3L615.0,283.6L613.8,294.8L612.1,305.7L609.9,316.3L607.2,326.6L604.0,336.3L600.4,345.6L596.3,354.3L591.8,362.4L586.9,369.9L581.5,376.6L575.6,382.6L569.4,387.8L562.8,392.2L555.8,395.8L548.4,398.7L540.7,400.8L532.7,402.1L524.3,402.7L515.6,402.7L506.7,402.0L497.4,400.7L488.0,399.0L478.3,396.9L468.4,394.5L458.3,391.9L448.0,389.2L437.7,386.6L427.1,384.2L416.5,382.1L405.8,380.4L395.1,379.2L384.3,378.6L373.5,378.6L362.7,379.2L352.0,380.4L341.3,382.1L330.7,384.2L320.2,386.6L309.8,389.2L299.5,391.9L289.4,394.5L279.5,396.9L269.8,399.0L260.4,400.7L251.2,402.0L242.2,402.7L233.5,402.7L225.2,402.1L217.1,400.8L209.4,398.7L202.0,395.8L195.0,392.2L188.4,387.8L182.2,382.6L176.4,376.6L171.0,369.9L166.0,362.4L161.5,354.3L157.4,345.6L153.8,336.3L150.6,326.6L148.0,316.3L145.8,305.7L144.1,294.8L142.8,283.6L142.1,272.3L141.8,260.9Z" fill="#6f92f3"/>
<path d="M146.8,260.9L147.0,250.1L147.8,239.4L149.0,228.8L150.6,218.5L152.8,208.5L155.4,198.8L158.5,189.5L162.0,180.8L166.0,172.6L170.5,165.0L175.3,158.0L180.6,151.7L186.3,146.2L192.4,141.3L198.9,137.3L205.7,134.0L212.9,131.4L220.5,129.6L228.4,128.6L236.6,128.2L245.1,128.5L253.8,129.4L262.9,130.8L272.1,132.7L281.6,135.0L291.3,137.6L301.2,140.4L311.2,143.2L321.4,145.9L331.7,148.5L342.1,150.7L352.5,152.5L363.1,153.8L373.6,154.4L384.2,154.4L394.7,153.8L405.3,152.5L415.7,150.7L426.1,148.5L436.4,145.9L446.6,143.2L456.6,140.4L466.5,137.6L476.2,135.0L485.7,132.7L495.0,130.8L504.0,129.4L512.8,128.5L521.2,128.2L529.4,128.6L537.3,129.6L544.9,131.4L552.1,134.0L559.0,137.3L565.4,141.3L571.5,146.2L577.2,151.7L582.5,158.0L587.4,165.0L591.8,172.6L595.8,180.8L599.3,189.5L602.4,198.8L605.0,208.5L607.2,218.5L608.8,228.8L610.0,239.4L610.8,250.1L611.0,260.9L611.0,260.9L610.8,271.7L610.0,282.4L608.8,293.0L607.2,303.3L605.0,313.3L602.4,323.0L599.3,332.3L595.8,341.0L591.8,349.2L587.4,356.8L582.5,363.8L577.2,370.1L571.5,375.6L565.4,380.5L559.0,384.5L552.1,387.8L544.9,390.4L537.3,392.2L529.4,393.3L521.2,393.6L512.8,393.3L504.0,392.4L495.0,391.0L485.7,389.1L476.2,386.8L466.5,384.2L456.6,381.4L446.6,378.6L436.4,375.9L426.1,373.3L415.7,371.1L405.3,369.3L394.7,368.0L384.2,367.4L373.6,367.4L363.1,368.0L352.5,369.3L342.1,371.1L331.7,373.3L321.4,375.9L311.2,378.6L301.2,381.4L291.3,384.2L281.6,386.8L272.1,389.1L262.9,391.0L253.8,392.4L245.1,393.3L236.6,393.6L228.4,393.3L220.5,392.2L212.9,390.4L205.7,387.8L198.9,384.5L192.4,380.5L186.3,375.6L180.6,370.1L175.3,363.8L170.5,356.8L166.0,349.2L162.0,341.0L158.5,332.3L155.4,323.0L152.8,313.3L150.6,303.3L149.0,293.0L147.8,282.4L147.0,271.7L146.8,260.9Z" fill="#6788ee"/>
<path d="M152.3,260.9L152.5,250.8L153.2,240.7L154.4,230.8L156.0,221.1L158.1,211.7L160.7,202.6L163.7,193.9L167.1,185.8L171.0,178.1L175.4,171.0L180.1,164.6L185.3,158.8L190.8,153.6L196.8,149.2L203.1,145.6L209.8,142.6L216.8,140.4L224.2,138.9L231.9,138.2L239.9,138.1L248.2,138.6L256.8,139.8L265.6,141.4L274.6,143.6L283.9,146.1L293.4,148.9L303.0,151.9L312.8,154.9L322.7,157.8L332.8,160.6L342.9,163.0L353.2,164.9L363.4,166.3L373.8,167.0L384.1,167.0L394.4,166.3L404.7,164.9L414.9,163.0L425.0,160.6L435.1,157.8L445.0,154.9L454.8,151.9L464.5,148.9L473.9,146.1L483.2,143.6L492.2,141.4L501.1,139.8L509.6,138.6L517.9,138.1L525.9,138.2L533.6,138.9L541.0,140.4L548.0,142.6L554.7,145.6L561.1,149.2L567.0,153.6L572.6,158.8L577.7,164.6L582.5,171.0L586.8,178.1L590.7,185.8L594.1,193.9L597.2,202.6L599.7,211.7L601.8,221.1L603.4,230.8L604.6,240.7L605.3,250.8L605.6,260.9L605.6,260.9L605.3,271.0L604.6,281.1L603.4,291.0L601.8,300.7L599.7,310.1L597.2,319.2L594.1,327.9L590.7,336.1L586.8,343.7L582.5,350.8L577.7,357.3L572.6,363.1L567.0,368.2L561.1,372.6L554.7,376.3L548.0,379.2L541.0,381.4L533.6,382.9L525.9,383.6L517.9,383.7L509.6,383.2L501.1,382.0L492.2,380.4L483.2,378.2L473.9,375.7L464.5,372.9L454.8,369.9L445.0,366.9L435.1,364.0L425.0,361.2L414.9,358.8L404.7,356.9L394.4,355.5L384.1,354.8L373.8,354.8L363.4,355.5L353.2,356.9L342.9,358.8L332.8,361.2L322.7,364.0L312.8,366.9L303.0,369.9L293.4,372.9L283.9,375.7L274.6,378.2L265.6,380.4L256.8,382.0L248.2,383.2L239.9,383.7L231.9,383.6L224.2,382.9L216.8,381.4L209.8,379.2L203.1,376.3L196.8,372.6L190.8,368.2L185.3,363.1L180.1,357.3L175.4,350.8L171.0,343.7L167.1,336.1L163.7,327.9L160.7,319.2L158.1,310.1L156.0,300.7L154.4,291.0L153.2,281.1L152.5,271.0L152.3,260.9Z" fill="#6180e9"/>
<path d="M158.3,260.9L158.6,251.5L159.3,242.1L160.4,232.9L162.0,223.9L164.0,215.2L166.5,206.7L169.5,198.7L172.8,191.2L176.6,184.1L180.8,177.6L185.4,171.7L190.5,166.4L195.9,161.8L201.7,157.9L207.8,154.6L214.3,152.1L221.2,150.3L228.4,149.2L235.9,148.7L243.6,149.0L251.7,149.8L260.0,151.3L268.6,153.2L277.4,155.7L286.5,158.5L295.7,161.5L305.0,164.8L314.6,168.1L324.3,171.4L334.0,174.4L343.9,177.0L353.9,179.2L363.9,180.7L373.9,181.5L383.9,181.5L394.0,180.7L404.0,179.2L413.9,177.0L423.8,174.4L433.6,171.4L443.2,168.1L452.8,164.8L462.2,161.5L471.4,158.5L480.4,155.7L489.2,153.2L497.8,151.3L506.1,149.8L514.2,149.0L522.0,148.7L529.5,149.2L536.6,150.3L543.5,152.1L550.0,154.6L556.2,157.9L562.0,161.8L567.4,166.4L572.4,171.7L577.0,177.6L581.2,184.1L585.0,191.2L588.4,198.7L591.3,206.7L593.8,215.2L595.8,223.9L597.4,232.9L598.6,242.1L599.2,251.5L599.5,260.9L599.5,260.9L599.2,270.3L598.6,279.7L597.4,288.9L595.8,297.9L593.8,306.7L591.3,315.1L588.4,323.1L585.0,330.6L581.2,337.7L577.0,344.2L572.4,350.1L567.4,355.4L562.0,360.0L556.2,363.9L550.0,367.2L543.5,369.7L536.6,371.5L529.5,372.6L522.0,373.1L514.2,372.8L506.1,372.0L497.8,370.5L489.2,368.6L480.4,366.2L471.4,363.4L462.2,360.3L452.8,357.0L443.2,353.7L433.6,350.4L423.8,347.4L413.9,344.8L404.0,342.6L394.0,341.1L383.9,340.3L373.9,340.3L363.9,341.1L353.9,342.6L343.9,344.8L334.0,347.4L324.3,350.4L314.6,353.7L305.0,357.0L295.7,360.3L286.5,363.4L277.4,366.2L268.6,368.6L260.0,370.5L251.7,372.0L243.6,372.8L235.9,373.1L228.4,372.6L221.2,371.5L214.3,369.7L207.8,367.2L201.7,363.9L195.9,360.0L190.5,355.4L185.4,350.1L180.8,344.2L176.6,337.7L172.8,330.6L169.5,323.1L166.5,315.1L164.0,306.7L162.0,297.9L160.4,288.9L159.3,279.7L158.6,270.3L158.3,260.9Z" fill="#5977e3"/>
<path d="M165.3,260.9L165.5,252.3L166.2,243.7L167.3,235.3L168.8,227.0L170.8,219.0L173.2,211.4L176.0,204.1L179.3,197.2L183.0,190.8L187.0,185.0L191.5,179.7L196.4,175.0L201.6,170.9L207.2,167.5L213.2,164.8L219.5,162.7L226.1,161.4L233.1,160.7L240.3,160.6L247.9,161.3L255.7,162.5L263.8,164.3L272.1,166.7L280.6,169.5L289.4,172.7L298.3,176.2L307.4,179.9L316.6,183.7L326.0,187.4L335.4,190.9L345.0,194.0L354.6,196.6L364.3,198.4L374.0,199.3L383.8,199.3L393.5,198.4L403.2,196.6L412.8,194.0L422.4,190.9L431.9,187.4L441.2,183.7L450.5,179.9L459.5,176.2L468.5,172.7L477.2,169.5L485.7,166.7L494.0,164.3L502.1,162.5L509.9,161.3L517.5,160.6L524.7,160.7L531.7,161.4L538.3,162.7L544.6,164.8L550.6,167.5L556.2,170.9L561.4,175.0L566.3,179.7L570.8,185.0L574.9,190.8L578.5,197.2L581.8,204.1L584.6,211.4L587.0,219.0L589.0,227.0L590.6,235.3L591.7,243.7L592.3,252.3L592.5,260.9L592.5,260.9L592.3,269.5L591.7,278.1L590.6,286.5L589.0,294.8L587.0,302.8L584.6,310.4L581.8,317.7L578.5,324.6L574.9,331.0L570.8,336.8L566.3,342.1L561.4,346.8L556.2,350.9L550.6,354.3L544.6,357.0L538.3,359.1L531.7,360.4L524.7,361.1L517.5,361.2L509.9,360.5L502.1,359.3L494.0,357.5L485.7,355.1L477.2,352.3L468.5,349.1L459.5,345.6L450.5,341.9L441.2,338.1L431.9,334.4L422.4,330.9L412.8,327.8L403.2,325.2L393.5,323.4L383.8,322.5L374.0,322.5L364.3,323.4L354.6,325.2L345.0,327.8L335.4,330.9L326.0,334.4L316.6,338.1L307.4,341.9L298.3,345.6L289.4,349.1L280.6,352.3L272.1,355.1L263.8,357.5L255.7,359.3L247.9,360.5L240.3,361.2L233.1,361.1L226.1,360.4L219.5,359.1L213.2,357.0L207.2,354.3L201.6,350.9L196.4,346.8L191.5,342.1L187.0,336.8L183.0,331.0L179.3,324.6L176.0,317.7L173.2,310.4L170.8,302.8L168.8,294.8L167.3,286.5L166.2,278.1L165.5,269.5L165.3,260.9Z" fill="#516ddb"/>
<path d="M173.4,260.9L173.6,253.2L174.3,245.5L175.3,238.0L176.8,230.6L178.7,223.5L181.0,216.7L183.8,210.2L186.9,204.2L190.4,198.5L194.4,193.4L198.7,188.9L203.3,184.9L208.4,181.4L213.8,178.7L219.5,176.5L225.6,175.0L232.0,174.2L238.7,174.0L245.6,174.5L252.9,175.7L260.4,177.4L268.2,179.8L276.2,182.7L284.4,186.1L292.8,189.9L301.4,194.2L310.1,198.7L319.0,203.5L328.0,208.2L337.1,212.9L346.3,217.3L355.6,221.0L364.9,223.8L374.2,225.2L383.6,225.2L392.9,223.8L402.2,221.0L411.5,217.3L420.7,212.9L429.8,208.2L438.8,203.5L447.7,198.7L456.5,194.2L465.0,189.9L473.4,186.1L481.7,182.7L489.6,179.8L497.4,177.4L504.9,175.7L512.2,174.5L519.2,174.0L525.9,174.2L532.2,175.0L538.3,176.5L544.0,178.7L549.4,181.4L554.5,184.9L559.2,188.9L563.5,193.4L567.4,198.5L570.9,204.2L574.1,210.2L576.8,216.7L579.1,223.5L581.0,230.6L582.5,238.0L583.5,245.5L584.2,253.2L584.4,260.9L584.4,260.9L584.2,268.6L583.5,276.3L582.5,283.8L581.0,291.2L579.1,298.3L576.8,305.1L574.1,311.6L570.9,317.7L567.4,323.3L563.5,328.4L559.2,332.9L554.5,337.0L549.4,340.4L544.0,343.1L538.3,345.3L532.2,346.8L525.9,347.6L519.2,347.8L512.2,347.3L504.9,346.1L497.4,344.4L489.6,342.1L481.7,339.2L473.4,335.7L465.0,331.9L456.5,327.6L447.7,323.1L438.8,318.4L429.8,313.6L420.7,308.9L411.5,304.5L402.2,300.8L392.9,298.1L383.6,296.6L374.2,296.6L364.9,298.1L355.6,300.8L346.3,304.5L337.1,308.9L328.0,313.6L319.0,318.4L310.1,323.1L301.4,327.6L292.8,331.9L284.4,335.7L276.2,339.2L268.2,342.1L260.4,344.4L252.9,346.1L245.6,347.3L238.7,347.8L232.0,347.6L225.6,346.8L219.5,345.3L213.8,343.1L208.4,340.4L203.3,337.0L198.7,332.9L194.4,328.4L190.4,323.3L186.9,317.7L183.8,311.6L181.0,305.1L178.7,298.3L176.8,291.2L175.3,283.8L174.3,276.3L173.6,268.6L173.4,260.9Z" fill="#4b64d5"/>
<path d="M183.5,260.9L183.8,253.6L184.5,246.5L185.7,239.5L187.4,232.7L189.5,226.2L192.1,220.2L195.1,214.5L198.5,209.4L202.3,204.8L206.5,200.8L211.0,197.4L215.8,194.7L220.8,192.6L226.2,191.1L231.7,190.2L237.4,190.0L243.2,190.3L249.2,191.2L255.2,192.6L261.2,194.4L267.2,196.7L273.1,199.3L278.9,202.3L284.6,205.5L290.1,208.9L295.5,212.6L300.6,216.3L305.4,220.1L309.9,223.9L314.0,227.8L317.8,231.6L321.2,235.5L324.2,239.2L326.8,243.0L328.9,246.6L330.6,250.2L331.8,253.8L332.5,257.4L332.8,260.9L332.8,260.9L332.5,264.4L331.8,268.0L330.6,271.6L328.9,275.2L326.8,278.9L324.2,282.6L321.2,286.3L317.8,290.2L314.0,294.0L309.9,297.9L305.4,301.7L300.6,305.5L295.5,309.3L290.1,312.9L284.6,316.3L278.9,319.5L273.1,322.5L267.2,325.1L261.2,327.4L255.2,329.2L249.2,330.6L243.2,331.5L237.4,331.8L231.7,331.6L226.2,330.7L220.8,329.2L215.8,327.1L211.0,324.4L206.5,321.0L202.3,317.0L198.5,312.4L195.1,307.3L192.1,301.6L189.5,295.6L187.4,289.1L185.7,282.3L184.5,275.3L183.8,268.2L183.5,260.9ZM425.0,260.9L425.3,257.4L426.0,253.8L427.2,250.2L428.9,246.6L431.0,243.0L433.6,239.2L436.6,235.5L440.0,231.6L443.8,227.8L448.0,223.9L452.5,220.1L457.3,216.3L462.3,212.6L467.7,208.9L473.2,205.5L478.9,202.3L484.7,199.3L490.7,196.7L496.7,194.4L502.7,192.6L508.7,191.2L514.6,190.3L520.4,190.0L526.1,190.2L531.7,191.1L537.0,192.6L542.1,194.7L546.9,197.4L551.4,200.8L555.5,204.8L559.3,209.4L562.7,214.5L565.7,220.2L568.3,226.2L570.5,232.7L572.1,239.5L573.3,246.5L574.1,253.6L574.3,260.9L574.3,260.9L574.1,268.2L573.3,275.3L572.1,282.3L570.5,289.1L568.3,295.6L565.7,301.6L562.7,307.3L559.3,312.4L555.5,317.0L551.4,321.0L546.9,324.4L542.1,327.1L537.0,329.2L531.7,330.7L526.1,331.6L520.4,331.8L514.6,331.5L508.7,330.6L502.7,329.2L496.7,327.4L490.7,325.1L484.7,322.5L478.9,319.5L473.2,316.3L467.7,312.9L462.3,309.3L457.3,305.5L452.5,301.7L448.0,297.9L443.8,294.0L440.0,290.2L436.6,286.3L433.6,282.6L431.0,278.9L428.9,275.2L427.2,271.6L426.0,268.0L425.3,264.4L425.0,260.9Z" fill="#445acc"/>
<path d="M197.5,260.9L197.7,256.2L198.2,251.6L198.9,247.0L200.0,242.6L201.4,238.3L203.0,234.2L204.9,230.4L207.1,226.9L209.5,223.7L212.2,220.8L215.1,218.2L218.1,216.0L221.4,214.2L224.8,212.8L228.3,211.7L231.9,211.1L235.7,210.8L239.4,210.8L243.3,211.2L247.1,211.9L250.9,213.0L254.7,214.3L258.5,215.9L262.1,217.8L265.6,219.8L269.0,222.1L272.3,224.5L275.3,227.1L278.2,229.9L280.9,232.7L283.3,235.6L285.5,238.6L287.4,241.7L289.0,244.8L290.4,248.0L291.5,251.2L292.2,254.4L292.7,257.7L292.8,260.9L292.8,260.9L292.7,264.1L292.2,267.4L291.5,270.6L290.4,273.8L289.0,277.0L287.4,280.1L285.5,283.2L283.3,286.2L280.9,289.1L278.2,292.0L275.3,294.7L272.3,297.3L269.0,299.7L265.6,302.0L262.1,304.0L258.5,305.9L254.7,307.5L250.9,308.8L247.1,309.9L243.3,310.6L239.4,311.0L235.7,311.0L231.9,310.7L228.3,310.1L224.8,309.0L221.4,307.6L218.1,305.8L215.1,303.6L212.2,301.0L209.5,298.1L207.1,294.9L204.9,291.4L203.0,287.6L201.4,283.5L200.0,279.3L198.9,274.8L198.2,270.3L197.7,265.6L197.5,260.9ZM465.0,260.9L465.1,257.7L465.6,254.4L466.4,251.2L467.4,248.0L468.8,244.8L470.4,241.7L472.3,238.6L474.5,235.6L477.0,232.7L479.6,229.9L482.5,227.1L485.6,224.5L488.8,222.1L492.2,219.8L495.7,217.8L499.4,215.9L503.1,214.3L506.9,213.0L510.7,211.9L514.5,211.2L518.4,210.8L522.2,210.8L525.9,211.1L529.5,211.7L533.1,212.8L536.5,214.2L539.7,216.0L542.8,218.2L545.6,220.8L548.3,223.7L550.7,226.9L552.9,230.4L554.8,234.2L556.5,238.3L557.8,242.6L558.9,247.0L559.7,251.6L560.1,256.2L560.3,260.9L560.3,260.9L560.1,265.6L559.7,270.3L558.9,274.8L557.8,279.3L556.5,283.5L554.8,287.6L552.9,291.4L550.7,294.9L548.3,298.1L545.6,301.0L542.8,303.6L539.7,305.8L536.5,307.6L533.1,309.0L529.5,310.1L525.9,310.7L522.2,311.0L518.4,311.0L514.5,310.6L510.7,309.9L506.9,308.8L503.1,307.5L499.4,305.9L495.7,304.0L492.2,302.0L488.8,299.7L485.6,297.3L482.5,294.7L479.6,292.0L477.0,289.1L474.5,286.2L472.3,283.2L470.4,280.1L468.8,277.0L467.4,273.8L466.4,270.6L465.6,267.4L465.1,264.1L465.0,260.9Z" fill="#3d50c3"/>
<path d="M382.3,342.6L221.2,265.2L518.3,299.5L241.4,272.1L361.0,265.7L294.1,223.2L262.4,327.6L476.0,275.5L246.4,311.0L274.5,241.8L235.7,192.5L256.8,320.0L210.9,239.8L271.2,257.3L242.3,261.1L306.6,289.9L537.8,308.7L491.8,262.7L415.1,278.7" fill="none" stroke="#000" stroke-width="7.5" stroke-linejoin="round" stroke-linecap="butt"/>
</g>
<rect x="95.0" y="23.75" width="566.4" height="475.1" fill="none" stroke="#000" stroke-width="4"/>
<line x1="77.50" y1="102.27" x2="95.00" y2="102.27" stroke="#000" stroke-width="4"/>
<text><tspan x="39.3" y="114.5" font-size="35" textLength="21.0" lengthAdjust="spacingAndGlyphs">2</tspan></text>
<line x1="77.50" y1="181.59" x2="95.00" y2="181.59" stroke="#000" stroke-width="4"/>
<text><tspan x="39.5" y="193.8" font-size="35" textLength="21.0" lengthAdjust="spacingAndGlyphs">1</tspan></text>
<line x1="77.50" y1="260.90" x2="95.00" y2="260.90" stroke="#000" stroke-width="4"/>
<text><tspan x="38.6" y="273.1" font-size="35" textLength="21.0" lengthAdjust="spacingAndGlyphs">0</tspan></text>
<line x1="77.50" y1="340.22" x2="95.00" y2="340.22" stroke="#000" stroke-width="4"/>
<text><tspan x="7.5" y="354.7" font-size="35" textLength="30.3" lengthAdjust="spacingAndGlyphs">−</tspan><tspan x="39.5" y="352.4" font-size="35" textLength="21.0" lengthAdjust="spacingAndGlyphs">1</tspan></text>
<line x1="77.50" y1="419.53" x2="95.00" y2="419.53" stroke="#000" stroke-width="4"/>
<text><tspan x="7.5" y="434.0" font-size="35" textLength="30.3" lengthAdjust="spacingAndGlyphs">−</tspan><tspan x="39.3" y="431.7" font-size="35" textLength="21.0" lengthAdjust="spacingAndGlyphs">2</tspan></text>
<line x1="77.50" y1="498.85" x2="95.00" y2="498.85" stroke="#000" stroke-width="4"/>
<text><tspan x="7.5" y="513.4" font-size="35" textLength="30.3" lengthAdjust="spacingAndGlyphs">−</tspan><tspan x="38.7" y="511.1" font-size="35" textLength="21.0" lengthAdjust="spacingAndGlyphs">3</tspan></text>
<line x1="95.00" y1="498.85" x2="95.00" y2="516.35" stroke="#000" stroke-width="4"/>
<text><tspan x="69.0" y="560.6" font-size="35" textLength="30.4" lengthAdjust="spacingAndGlyphs">−</tspan><tspan x="102.0" y="558.3" font-size="35" textLength="21.0" lengthAdjust="spacingAndGlyphs">2</tspan></text>
<line x1="236.95" y1="498.85" x2="236.95" y2="516.35" stroke="#000" stroke-width="4"/>
<text><tspan x="211.0" y="560.6" font-size="35" textLength="30.4" lengthAdjust="spacingAndGlyphs">−</tspan><tspan x="242.1" y="558.3" font-size="35" textLength="21.0" lengthAdjust="spacingAndGlyphs">1</tspan></text>
<line x1="378.91" y1="498.85" x2="378.91" y2="516.35" stroke="#000" stroke-width="4"/>
<text><tspan x="368.6" y="558.3" font-size="35" textLength="21.0" lengthAdjust="spacingAndGlyphs">0</tspan></text>
<line x1="520.86" y1="498.85" x2="520.86" y2="516.35" stroke="#000" stroke-width="4"/>
<text><tspan x="510.0" y="558.3" font-size="35" textLength="21.0" lengthAdjust="spacingAndGlyphs">1</tspan></text>
<rect x="696.7" y="487.99" width="23.799999999999955" height="11.16" fill="#3d50c3"/>
<rect x="696.7" y="477.43" width="23.799999999999955" height="11.16" fill="#445acc"/>
<rect x="696.7" y="466.88" width="23.799999999999955" height="11.16" fill="#4b64d5"/>
<rect x="696.7" y="456.32" width="23.799999999999955" height="11.16" fill="#516ddb"/>
<rect x="696.7" y="445.76" width="23.799999999999955" height="11.16" fill="#5977e3"/>
<rect x="696.7" y="435.20" width="23.799999999999955" height="11.16" fill="#6180e9"/>
<rect x="696.7" y="424.65" width="23.799999999999955" height="11.16" fill="#6788ee"/>
<rect x="696.7" y="414.09" width="23.799999999999955" height="11.16" fill="#6f92f3"/>
<rect x="696.7" y="403.53" width="23.799999999999955" height="11.16" fill="#779af7"/>
<rect x="696.7" y="392.97" width="23.799999999999955" height="11.16" fill="#80a3fa"/>
<rect x="696.7" y="382.41" width="23.799999999999955" height="11.16" fill="#86a9fc"/>
<rect x="696.7" y="371.86" width="23.799999999999955" height="11.16" fill="#8fb1fe"/>
<rect x="696.7" y="361.30" width="23.799999999999955" height="11.16" fill="#97b8ff"/>
<rect x="696.7" y="350.74" width="23.799999999999955" height="11.16" fill="#9ebeff"/>
<rect x="696.7" y="340.18" width="23.799999999999955" height="11.16" fill="#a6c4fe"/>
<rect x="696.7" y="329.63" width="23.799999999999955" height="11.16" fill="#aec9fc"/>
<rect x="696.7" y="319.07" width="23.799999999999955" height="11.16" fill="#b5cdfa"/>
<rect x="696.7" y="308.51" width="23.799999999999955" height="11.16" fill="#bcd2f7"/>
<rect x="696.7" y="297.95" width="23.799999999999955" height="11.16" fill="#c4d5f3"/>
<rect x="696.7" y="287.39" width="23.799999999999955" height="11.16" fill="#cad8ef"/>
<rect x="696.7" y="276.84" width="23.799999999999955" height="11.16" fill="#d1dae9"/>
<rect x="696.7" y="266.28" width="23.799999999999955" height="11.16" fill="#d7dce3"/>
<rect x="696.7" y="255.72" width="23.799999999999955" height="11.16" fill="#dddcdc"/>
<rect x="696.7" y="245.16" width="23.799999999999955" height="11.16" fill="#e2dad5"/>
<rect x="696.7" y="234.61" width="23.799999999999955" height="11.16" fill="#e8d6cc"/>
<rect x="696.7" y="224.05" width="23.799999999999955" height="11.16" fill="#edd2c3"/>
<rect x="696.7" y="213.49" width="23.799999999999955" height="11.16" fill="#f0cdbb"/>
<rect x="696.7" y="202.93" width="23.799999999999955" height="11.16" fill="#f3c8b2"/>
<rect x="696.7" y="192.37" width="23.799999999999955" height="11.16" fill="#f5c1a9"/>
<rect x="696.7" y="181.82" width="23.799999999999955" height="11.16" fill="#f7bca1"/>
<rect x="696.7" y="171.26" width="23.799999999999955" height="11.16" fill="#f7b497"/>
<rect x="696.7" y="160.70" width="23.799999999999955" height="11.16" fill="#f7ac8e"/>
<rect x="696.7" y="150.14" width="23.799999999999955" height="11.16" fill="#f6a586"/>
<rect x="696.7" y="139.59" width="23.799999999999955" height="11.16" fill="#f59c7d"/>
<rect x="696.7" y="129.03" width="23.799999999999955" height="11.16" fill="#f29274"/>
<rect x="696.7" y="118.47" width="23.799999999999955" height="11.16" fill="#f08a6c"/>
<rect x="696.7" y="107.91" width="23.799999999999955" height="11.16" fill="#ec7f63"/>
<rect x="696.7" y="97.35" width="23.799999999999955" height="11.16" fill="#e7745b"/>
<rect x="696.7" y="86.80" width="23.799999999999955" height="11.16" fill="#e26952"/>
<rect x="696.7" y="76.24" width="23.799999999999955" height="11.16" fill="#dd5f4b"/>
<rect x="696.7" y="65.68" width="23.799999999999955" height="11.16" fill="#d65244"/>
<rect x="696.7" y="55.12" width="23.799999999999955" height="11.16" fill="#cf453c"/>
<rect x="696.7" y="44.57" width="23.799999999999955" height="11.16" fill="#c83836"/>
<rect x="696.7" y="34.01" width="23.799999999999955" height="11.16" fill="#c0282f"/>
<rect x="696.7" y="23.45" width="23.799999999999955" height="11.16" fill="#b70d28"/>
<rect x="696.7" y="23.75" width="23.799999999999955" height="475.1" fill="none" stroke="#000" stroke-width="4"/>
<line x1="720.50" y1="498.85" x2="738.00" y2="498.85" stroke="#000" stroke-width="4"/>
<text x="755.7" y="511.1" font-size="35" textLength="21.0" lengthAdjust="spacingAndGlyphs">0</text>
<line x1="720.50" y1="446.06" x2="738.00" y2="446.06" stroke="#000" stroke-width="4"/>
<text x="755.5" y="458.3" font-size="35" textLength="21.0" lengthAdjust="spacingAndGlyphs">2</text>
<line x1="720.50" y1="393.27" x2="738.00" y2="393.27" stroke="#000" stroke-width="4"/>
<text x="756.5" y="405.5" font-size="35" textLength="21.0" lengthAdjust="spacingAndGlyphs">4</text>
<line x1="720.50" y1="340.48" x2="738.00" y2="340.48" stroke="#000" stroke-width="4"/>
<text x="755.5" y="352.7" font-size="35" textLength="21.0" lengthAdjust="spacingAndGlyphs">6</text>
<line x1="720.50" y1="287.69" x2="738.00" y2="287.69" stroke="#000" stroke-width="4"/>
<text x="755.7" y="299.9" font-size="35" textLength="21.0" lengthAdjust="spacingAndGlyphs">8</text>
<line x1="720.50" y1="234.91" x2="738.00" y2="234.91" stroke="#000" stroke-width="4"/>
<text x="754.9" y="247.1" font-size="35" textLength="42.0" lengthAdjust="spacingAndGlyphs">10</text>
<line x1="720.50" y1="182.12" x2="738.00" y2="182.12" stroke="#000" stroke-width="4"/>
<text x="754.9" y="194.3" font-size="35" textLength="42.0" lengthAdjust="spacingAndGlyphs">12</text>
<line x1="720.50" y1="129.33" x2="738.00" y2="129.33" stroke="#000" stroke-width="4"/>
<text x="754.9" y="141.5" font-size="35" textLength="42.0" lengthAdjust="spacingAndGlyphs">14</text>
<line x1="720.50" y1="76.54" x2="738.00" y2="76.54" stroke="#000" stroke-width="4"/>
<text x="754.9" y="88.7" font-size="35" textLength="42.0" lengthAdjust="spacingAndGlyphs">16</text>
<line x1="720.50" y1="23.75" x2="738.00" y2="23.75" stroke="#000" stroke-width="4"/>
<text x="754.9" y="36.0" font-size="35" textLength="42.0" lengthAdjust="spacingAndGlyphs">18</text>
<text><tspan x="-2.8" y="37.6" font-size="55" textLength="18.2" lengthAdjust="spacingAndGlyphs">(</tspan><tspan x="16.3" y="37.6" font-size="49.5" textLength="29.5" lengthAdjust="spacingAndGlyphs" font-weight="bold">a</tspan><tspan x="45.9" y="37.6" font-size="55" textLength="18.2" lengthAdjust="spacingAndGlyphs">)</tspan></text>
<text><tspan x="906.6" y="37.6" font-size="55" textLength="18.2" lengthAdjust="spacingAndGlyphs">(</tspan><tspan x="926.7" y="37.6" font-size="49.5" textLength="31.5" lengthAdjust="spacingAndGlyphs" font-weight="bold">b</tspan><tspan x="958.9" y="37.6" font-size="55" textLength="18.2" lengthAdjust="spacingAndGlyphs">)</tspan></text>
<g clip-path="url(#cb)">
<path d="M1047.2,243.2L1058.1,239.8L1069.0,236.5L1079.9,233.1L1090.8,229.8L1101.8,226.4L1112.7,223.0L1123.6,219.7L1134.5,216.3L1145.4,213.0L1156.3,209.6L1167.2,206.2L1178.1,202.9L1189.0,199.5L1200.0,196.2L1210.9,192.8L1221.8,189.5L1232.7,186.1L1243.6,182.7L1254.5,179.4L1265.4,176.0L1276.3,172.7L1287.2,169.3L1298.1,165.9L1309.1,162.6L1320.0,159.2L1330.9,155.9L1341.8,152.5L1352.7,149.1L1363.6,145.8L1374.5,142.4L1385.4,139.1L1396.3,135.7L1407.3,132.3L1418.2,129.0L1429.1,125.6L1440.0,122.3L1450.9,118.9L1461.8,115.5L1472.7,112.2L1483.6,108.8L1494.5,105.5L1505.5,102.1L1516.4,98.7L1527.3,95.4L1538.2,92.0L1549.1,88.7L1560.0,85.3L1570.9,82.0L1581.8,78.6L1592.7,74.3L1603.7,71.3L1614.6,68.5L1625.5,65.2L1636.4,61.8L1647.3,58.4L1658.2,55.1L1669.1,51.7L1680.0,48.4L1690.9,45.0" fill="none" stroke="#1f77b4" stroke-width="7.5" stroke-linejoin="round" stroke-linecap="square"/>
<path d="M1047.2,350.4L1058.1,347.1L1069.0,343.7L1079.9,340.4L1090.8,337.0L1101.8,333.7L1112.7,330.3L1123.6,327.0L1134.5,323.6L1145.4,320.3L1156.3,316.9L1167.2,313.6L1178.1,310.2L1189.0,306.9L1200.0,303.5L1210.9,300.2L1221.8,296.8L1232.7,293.5L1243.6,290.1L1254.5,286.8L1265.4,283.4L1276.3,280.1L1287.2,276.7L1298.1,273.4L1309.1,270.0L1320.0,266.7L1330.9,263.3L1341.8,260.0L1352.7,256.6L1363.6,253.3L1374.5,249.9L1385.4,246.6L1396.3,243.2L1407.3,239.9L1418.2,236.5L1429.1,233.1L1440.0,228.9L1450.9,226.3L1461.8,223.1L1472.7,219.8L1483.6,216.4L1494.5,213.1L1505.5,209.7L1516.4,206.4L1527.3,202.7L1538.2,198.6L1549.1,196.3L1560.0,193.0L1570.9,189.6L1581.8,185.2L1592.7,182.7L1603.7,179.6L1614.6,176.1L1625.5,171.8L1636.4,169.5L1647.3,166.2L1658.2,162.8L1669.1,159.5L1680.0,156.1L1690.9,152.8" fill="none" stroke="#ff7f0e" stroke-width="7.5" stroke-linejoin="round" stroke-linecap="square"/>
<path d="M1047.2,478.0L1058.1,474.6L1069.0,471.3L1079.9,467.9L1090.8,464.5L1101.8,461.2L1112.7,457.8L1123.6,454.4L1134.5,451.1L1145.4,447.7L1156.3,444.3L1167.2,441.0L1178.1,437.6L1189.0,434.2L1200.0,430.9L1210.9,427.5L1221.8,424.1L1232.7,420.7L1243.6,417.4L1254.5,414.0L1265.4,410.6L1276.3,407.3L1287.2,403.9L1298.1,400.5L1309.1,397.2L1320.0,393.8L1330.9,390.4L1341.8,387.1L1352.7,383.7L1363.6,380.3L1374.5,377.0L1385.4,373.6L1396.3,370.2L1407.3,366.9L1418.2,363.5L1429.1,360.1L1440.0,356.8L1450.9,353.4L1461.8,350.0L1472.7,346.7L1483.6,343.3L1494.5,339.9L1505.5,336.6L1516.4,333.2L1527.3,329.8L1538.2,326.4L1549.1,323.1L1560.0,319.7L1570.9,316.3L1581.8,313.0L1592.7,309.6L1603.7,306.2L1614.6,302.9L1625.5,299.5L1636.4,296.1L1647.3,292.8L1658.2,289.4L1669.1,285.5L1680.0,282.6L1690.9,279.3" fill="none" stroke="#2ca02c" stroke-width="7.5" stroke-linejoin="round" stroke-linecap="square"/>
</g>
<rect x="1036.4" y="44.7" width="289.6" height="185.2" rx="8" ry="8" fill="#fff" fill-opacity="0.8" stroke="#ccc" stroke-opacity="0.8" stroke-width="5"/>
<line x1="1048.7" y1="75.5" x2="1139.7" y2="75.5" stroke="#1f77b4" stroke-width="7.5"/>
<line x1="1048.7" y1="133.2" x2="1139.7" y2="133.2" stroke="#ff7f0e" stroke-width="7.5"/>
<line x1="1048.7" y1="190.9" x2="1139.7" y2="190.9" stroke="#2ca02c" stroke-width="7.5"/>
<text x="1169.5" y="89.3" font-size="40" textLength="139.8" lengthAdjust="spacingAndGlyphs">Python</text>
<text x="1169.7" y="147.3" font-size="40" textLength="117.2" lengthAdjust="spacingAndGlyphs">Mixed</text>
<text><tspan x="1169.1" y="206.2" font-size="40" textLength="30.1" lengthAdjust="spacingAndGlyphs">C</tspan><tspan x="1200.3" y="215.7" font-size="63" textLength="36.1" lengthAdjust="spacingAndGlyphs">+</tspan><tspan x="1232.4" y="215.7" font-size="63" textLength="37.4" lengthAdjust="spacingAndGlyphs">+</tspan></text>
<rect x="1015.05" y="23.75" width="707.95" height="475.1" fill="none" stroke="#000" stroke-width="4"/>
<line x1="1005.05" y1="496.02" x2="1015.05" y2="496.02" stroke="#000" stroke-width="3"/>
<line x1="1005.05" y1="488.20" x2="1015.05" y2="488.20" stroke="#000" stroke-width="3"/>
<line x1="1005.05" y1="481.43" x2="1015.05" y2="481.43" stroke="#000" stroke-width="3"/>
<line x1="1005.05" y1="475.45" x2="1015.05" y2="475.45" stroke="#000" stroke-width="3"/>
<line x1="997.55" y1="470.11" x2="1015.05" y2="470.11" stroke="#000" stroke-width="4"/>
<line x1="1005.05" y1="434.96" x2="1015.05" y2="434.96" stroke="#000" stroke-width="3"/>
<line x1="1005.05" y1="414.40" x2="1015.05" y2="414.40" stroke="#000" stroke-width="3"/>
<line x1="1005.05" y1="399.81" x2="1015.05" y2="399.81" stroke="#000" stroke-width="3"/>
<line x1="1005.05" y1="388.49" x2="1015.05" y2="388.49" stroke="#000" stroke-width="3"/>
<line x1="1005.05" y1="379.25" x2="1015.05" y2="379.25" stroke="#000" stroke-width="3"/>
<line x1="1005.05" y1="371.43" x2="1015.05" y2="371.43" stroke="#000" stroke-width="3"/>
<line x1="1005.05" y1="364.66" x2="1015.05" y2="364.66" stroke="#000" stroke-width="3"/>
<line x1="1005.05" y1="358.68" x2="1015.05" y2="358.68" stroke="#000" stroke-width="3"/>
<line x1="997.55" y1="353.34" x2="1015.05" y2="353.34" stroke="#000" stroke-width="4"/>
<line x1="1005.05" y1="318.19" x2="1015.05" y2="318.19" stroke="#000" stroke-width="3"/>
<line x1="1005.05" y1="297.63" x2="1015.05" y2="297.63" stroke="#000" stroke-width="3"/>
<line x1="1005.05" y1="283.04" x2="1015.05" y2="283.04" stroke="#000" stroke-width="3"/>
<line x1="1005.05" y1="271.72" x2="1015.05" y2="271.72" stroke="#000" stroke-width="3"/>
<line x1="1005.05" y1="262.48" x2="1015.05" y2="262.48" stroke="#000" stroke-width="3"/>
<line x1="1005.05" y1="254.66" x2="1015.05" y2="254.66" stroke="#000" stroke-width="3"/>
<line x1="1005.05" y1="247.89" x2="1015.05" y2="247.89" stroke="#000" stroke-width="3"/>
<line x1="1005.05" y1="241.91" x2="1015.05" y2="241.91" stroke="#000" stroke-width="3"/>
<line x1="997.55" y1="236.57" x2="1015.05" y2="236.57" stroke="#000" stroke-width="4"/>
<line x1="1005.05" y1="201.42" x2="1015.05" y2="201.42" stroke="#000" stroke-width="3"/>
<line x1="1005.05" y1="180.86" x2="1015.05" y2="180.86" stroke="#000" stroke-width="3"/>
<line x1="1005.05" y1="166.27" x2="1015.05" y2="166.27" stroke="#000" stroke-width="3"/>
<line x1="1005.05" y1="154.95" x2="1015.05" y2="154.95" stroke="#000" stroke-width="3"/>
<line x1="1005.05" y1="145.71" x2="1015.05" y2="145.71" stroke="#000" stroke-width="3"/>
<line x1="1005.05" y1="137.89" x2="1015.05" y2="137.89" stroke="#000" stroke-width="3"/>
<line x1="1005.05" y1="131.12" x2="1015.05" y2="131.12" stroke="#000" stroke-width="3"/>
<line x1="1005.05" y1="125.14" x2="1015.05" y2="125.14" stroke="#000" stroke-width="3"/>
<line x1="997.55" y1="119.80" x2="1015.05" y2="119.80" stroke="#000" stroke-width="4"/>
<line x1="1005.05" y1="84.65" x2="1015.05" y2="84.65" stroke="#000" stroke-width="3"/>
<line x1="1005.05" y1="64.09" x2="1015.05" y2="64.09" stroke="#000" stroke-width="3"/>
<line x1="1005.05" y1="49.50" x2="1015.05" y2="49.50" stroke="#000" stroke-width="3"/>
<line x1="1005.05" y1="38.18" x2="1015.05" y2="38.18" stroke="#000" stroke-width="3"/>
<line x1="1005.05" y1="28.94" x2="1015.05" y2="28.94" stroke="#000" stroke-width="3"/>
<line x1="1029.86" y1="498.85" x2="1029.86" y2="508.85" stroke="#000" stroke-width="3"/>
<line x1="1047.20" y1="498.85" x2="1047.20" y2="516.35" stroke="#000" stroke-width="4"/>
<line x1="1161.26" y1="498.85" x2="1161.26" y2="508.85" stroke="#000" stroke-width="3"/>
<line x1="1227.98" y1="498.85" x2="1227.98" y2="508.85" stroke="#000" stroke-width="3"/>
<line x1="1275.32" y1="498.85" x2="1275.32" y2="508.85" stroke="#000" stroke-width="3"/>
<line x1="1312.04" y1="498.85" x2="1312.04" y2="508.85" stroke="#000" stroke-width="3"/>
<line x1="1342.04" y1="498.85" x2="1342.04" y2="508.85" stroke="#000" stroke-width="3"/>
<line x1="1367.41" y1="498.85" x2="1367.41" y2="508.85" stroke="#000" stroke-width="3"/>
<line x1="1389.38" y1="498.85" x2="1389.38" y2="508.85" stroke="#000" stroke-width="3"/>
<line x1="1408.76" y1="498.85" x2="1408.76" y2="508.85" stroke="#000" stroke-width="3"/>
<line x1="1426.10" y1="498.85" x2="1426.10" y2="516.35" stroke="#000" stroke-width="4"/>
<line x1="1540.16" y1="498.85" x2="1540.16" y2="508.85" stroke="#000" stroke-width="3"/>
<line x1="1606.88" y1="498.85" x2="1606.88" y2="508.85" stroke="#000" stroke-width="3"/>
<line x1="1654.22" y1="498.85" x2="1654.22" y2="508.85" stroke="#000" stroke-width="3"/>
<line x1="1690.94" y1="498.85" x2="1690.94" y2="508.85" stroke="#000" stroke-width="3"/>
<line x1="1720.94" y1="498.85" x2="1720.94" y2="508.85" stroke="#000" stroke-width="3"/>
<text><tspan x="921.7" y="131.9" font-size="35" textLength="42.0" lengthAdjust="spacingAndGlyphs">10</tspan><tspan x="964.0" y="117.7" font-size="25" textLength="16.0" lengthAdjust="spacingAndGlyphs">0</tspan></text>
<text><tspan x="895.7" y="248.7" font-size="35" textLength="42.0" lengthAdjust="spacingAndGlyphs">10</tspan><tspan x="938.7" y="235.5" font-size="25" textLength="25.7" lengthAdjust="spacingAndGlyphs">−</tspan><tspan x="963.7" y="234.5" font-size="25" textLength="16.0" lengthAdjust="spacingAndGlyphs">1</tspan></text>
<text><tspan x="895.7" y="365.4" font-size="35" textLength="42.0" lengthAdjust="spacingAndGlyphs">10</tspan><tspan x="938.7" y="352.2" font-size="25" textLength="25.7" lengthAdjust="spacingAndGlyphs">−</tspan><tspan x="965.1" y="351.2" font-size="25" textLength="16.0" lengthAdjust="spacingAndGlyphs">2</tspan></text>
<text><tspan x="895.7" y="482.2" font-size="35" textLength="42.0" lengthAdjust="spacingAndGlyphs">10</tspan><tspan x="938.7" y="469.0" font-size="25" textLength="25.7" lengthAdjust="spacingAndGlyphs">−</tspan><tspan x="965.0" y="468.0" font-size="25" textLength="16.0" lengthAdjust="spacingAndGlyphs">3</tspan></text>
<text><tspan x="1018.7" y="558.2" font-size="35" textLength="42.0" lengthAdjust="spacingAndGlyphs">10</tspan><tspan x="1060.9" y="544.0" font-size="25" textLength="16.0" lengthAdjust="spacingAndGlyphs">2</tspan></text>
<text><tspan x="1397.6" y="558.2" font-size="35" textLength="42.0" lengthAdjust="spacingAndGlyphs">10</tspan><tspan x="1439.7" y="544.0" font-size="25" textLength="16.0" lengthAdjust="spacingAndGlyphs">3</tspan></text>
<text transform="translate(867.3,0) rotate(-90)"><tspan x="-376.2" y="0.0" font-size="41.5" textLength="145.7" lengthAdjust="spacingAndGlyphs">Elapsed</tspan> <tspan x="-212.2" y="0.0" font-size="41.5" textLength="33.9" lengthAdjust="spacingAndGlyphs">in</tspan> <tspan x="-162.8" y="0.0" font-size="41.5" textLength="16.3" lengthAdjust="spacingAndGlyphs">s</tspan></text>
<text><tspan x="1093.8" y="615.5" font-size="41.5" textLength="154.1" lengthAdjust="spacingAndGlyphs">Number</tspan> <tspan x="1262.3" y="615.5" font-size="41.5" textLength="38.9" lengthAdjust="spacingAndGlyphs">of</tspan> <tspan x="1312.3" y="615.5" font-size="41.5" textLength="215.3" lengthAdjust="spacingAndGlyphs">evaluations</tspan> <tspan x="1544.1" y="625.5" font-size="60" textLength="17.4" lengthAdjust="spacingAndGlyphs">/</tspan> <tspan x="1578.5" y="615.5" font-size="41.5" textLength="66.4" lengthAdjust="spacingAndGlyphs">100</tspan></text>
</svg>
</body></html>
